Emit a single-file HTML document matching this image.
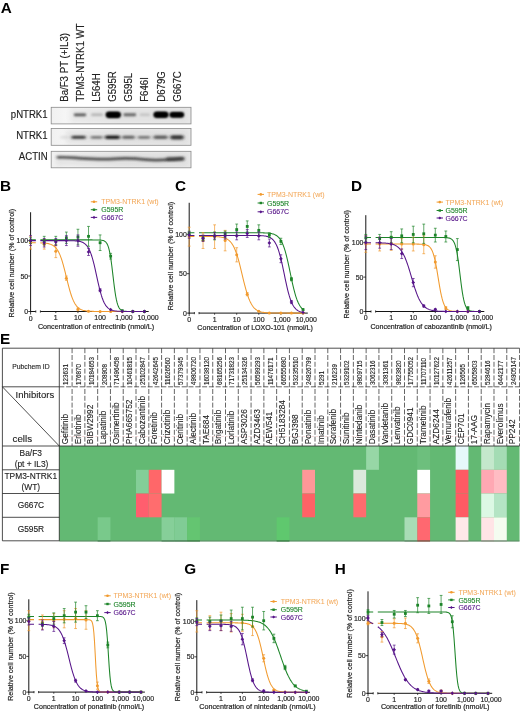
<!DOCTYPE html>
<html lang="en">
<head>
<meta charset="utf-8">
<title>Figure</title>
<style>
html,body{margin:0;padding:0;background:#fff;}
body{width:520px;height:713px;overflow:hidden;font-family:'Liberation Sans', sans-serif;}
svg text{font-family:'Liberation Sans', sans-serif;}
</style>
</head>
<body>
<svg width="520" height="713" viewBox="0 0 520 713" font-family="'Liberation Sans', sans-serif" style="display:block">
<text x="0.7" y="12.8" font-size="15.3" font-weight="700" fill="#000">A</text>
<text transform="translate(68,101.8) rotate(-90) scale(0.895,1)" font-size="10.8" fill="#222" stroke="#222" stroke-width="0.15">Ba/F3 PT (+IL3)</text>
<text transform="translate(83.6,101.8) rotate(-90) scale(0.895,1)" font-size="10.8" fill="#222" stroke="#222" stroke-width="0.15">TPM3-NTRK1 WT</text>
<text transform="translate(99.7,101.8) rotate(-90) scale(0.895,1)" font-size="10.8" fill="#222" stroke="#222" stroke-width="0.15">L564H</text>
<text transform="translate(115.9,101.8) rotate(-90) scale(0.895,1)" font-size="10.8" fill="#222" stroke="#222" stroke-width="0.15">G595R</text>
<text transform="translate(132,101.8) rotate(-90) scale(0.895,1)" font-size="10.8" fill="#222" stroke="#222" stroke-width="0.15">G595L</text>
<text transform="translate(148.2,101.8) rotate(-90) scale(0.895,1)" font-size="10.8" fill="#222" stroke="#222" stroke-width="0.15">F646I</text>
<text transform="translate(165.1,101.8) rotate(-90) scale(0.895,1)" font-size="10.8" fill="#222" stroke="#222" stroke-width="0.15">D679G</text>
<text transform="translate(180.9,101.8) rotate(-90) scale(0.895,1)" font-size="10.8" fill="#222" stroke="#222" stroke-width="0.15">G667C</text>
<text transform="translate(47.6,118.3) scale(0.915,1)" font-size="10.5" text-anchor="end" fill="#222" stroke="#222" stroke-width="0.15">pNTRK1</text>
<text transform="translate(47.6,139.2) scale(0.915,1)" font-size="10.5" text-anchor="end" fill="#222" stroke="#222" stroke-width="0.15">NTRK1</text>
<text transform="translate(47.6,159.8) scale(0.915,1)" font-size="10.5" text-anchor="end" fill="#222" stroke="#222" stroke-width="0.15">ACTIN</text>
<defs><filter id="b1" x="-30%" y="-200%" width="160%" height="500%"><feGaussianBlur stdDeviation="1.3 0.9"/></filter><filter id="b2" x="-30%" y="-200%" width="160%" height="500%"><feGaussianBlur stdDeviation="1.6 1.0"/></filter><filter id="b3" x="-30%" y="-300%" width="160%" height="700%"><feGaussianBlur stdDeviation="2.5 2.2"/></filter><linearGradient id="bg1" x1="0" x2="1" y1="0" y2="0"><stop offset="0" stop-color="#f1f1f1"/><stop offset="0.12" stop-color="#f6f6f6"/><stop offset="0.5" stop-color="#ececec"/><stop offset="1" stop-color="#e9e9e9"/></linearGradient></defs>
<clipPath id="cb0"><rect x="51.2" y="107.3" width="139.8" height="16.6"/></clipPath>
<rect x="51.2" y="107.3" width="139.8" height="16.6" fill="url(#bg1)"/>
<clipPath id="cb1"><rect x="51.2" y="128.4" width="139.8" height="16.9"/></clipPath>
<rect x="51.2" y="128.4" width="139.8" height="16.9" fill="url(#bg1)"/>
<clipPath id="cb2"><rect x="51.2" y="151.3" width="139.8" height="16.5"/></clipPath>
<rect x="51.2" y="151.3" width="139.8" height="16.5" fill="url(#bg1)"/>
<g clip-path="url(#cb0)">
<rect x="70" y="108" width="118" height="15" fill="#d9d9d9" opacity="0.45" filter="url(#b3)"/>
<rect x="73.8" y="113.45" width="12.4" height="2.7" rx="1.35" fill="#3a3a3a" opacity="0.85" filter="url(#b1)"/>
<rect x="91" y="113.5" width="12" height="2.6" rx="1.3" fill="#777" opacity="0.45" filter="url(#b1)"/>
<rect x="105.7" y="111.7" width="15.2" height="6.2" rx="3.1" fill="#000" opacity="1" filter="url(#b1)"/>
<rect x="123.4" y="113.35" width="12.8" height="2.9" rx="1.45" fill="#444" opacity="0.8" filter="url(#b1)"/>
<rect x="139.6" y="113.6" width="10.4" height="2.4" rx="1.2" fill="#888" opacity="0.35" filter="url(#b1)"/>
<rect x="153.5" y="111.8" width="15" height="6" rx="3" fill="#000" opacity="1" filter="url(#b1)"/>
<rect x="169.5" y="112.1" width="14.6" height="5.4" rx="2.7" fill="#000" opacity="1" filter="url(#b1)"/>
<rect x="106.7" y="112.5" width="13.2" height="4.6" rx="2.3" fill="#000" filter="url(#b1)"/>
<rect x="154.5" y="112.6" width="13" height="4.4" rx="2.2" fill="#000" filter="url(#b1)"/>
<rect x="170.5" y="112.9" width="12.6" height="3.8" rx="1.9" fill="#000" filter="url(#b1)"/>
</g>
<g clip-path="url(#cb1)">
<rect x="66" y="130" width="122" height="14" fill="#d4d4d4" opacity="0.5" filter="url(#b3)"/>
<rect x="60.5" y="136.05" width="8" height="2.5" rx="1.25" fill="#999" opacity="0.25" filter="url(#b2)"/>
<rect x="71.4" y="135.75" width="14.4" height="3.1" rx="1.55" fill="#222" opacity="0.9" filter="url(#b2)"/>
<rect x="90.6" y="135.9" width="12" height="2.8" rx="1.4" fill="#444" opacity="0.7" filter="url(#b2)"/>
<rect x="104.9" y="135.5" width="15.2" height="3.6" rx="1.8" fill="#111" opacity="0.95" filter="url(#b2)"/>
<rect x="122.1" y="135.8" width="12.8" height="3" rx="1.5" fill="#333" opacity="0.75" filter="url(#b2)"/>
<rect x="137.8" y="135.9" width="12.4" height="2.8" rx="1.4" fill="#444" opacity="0.7" filter="url(#b2)"/>
<rect x="153.4" y="135.5" width="14.4" height="3.6" rx="1.8" fill="#333" opacity="0.75" filter="url(#b2)"/>
<rect x="170.2" y="135.2" width="13.6" height="4.2" rx="2.1" fill="#222" opacity="0.9" filter="url(#b2)"/>
</g>
<g clip-path="url(#cb2)">
<rect x="56" y="153" width="132" height="13" fill="#d4d4d4" opacity="0.5" filter="url(#b3)"/>
<path d="M58,157.3 C70,156.9 76,158.3 86,158.6 S104,159.5 114,158.8 S134,158.3 146,159.6 S170,159.4 183,158.7" fill="none" stroke="#2a2a2a" stroke-width="2.7" stroke-linecap="round" opacity="0.82" filter="url(#b2)"/>
<rect x="166" y="156.7" width="18" height="4.2" rx="2" fill="#222" opacity="0.5" filter="url(#b2)"/>
</g>
<rect x="51.2" y="107.3" width="139.8" height="16.6" fill="none" stroke="#8a8a8a" stroke-width="0.8"/>
<rect x="51.2" y="128.4" width="139.8" height="16.9" fill="none" stroke="#8a8a8a" stroke-width="0.8"/>
<rect x="51.2" y="151.3" width="139.8" height="16.5" fill="none" stroke="#8a8a8a" stroke-width="0.8"/>
<text x="0.1" y="190.9" font-size="15.3" font-weight="700" fill="#000">B</text>
<g stroke="#151515" stroke-width="1.0" fill="none">
<path d="M30.6,212.24 V312"/>
<path d="M30.1,311.5 H35.8"/>
<path d="M40.4,311.5 H148.7"/>
</g>
<g stroke="#151515" stroke-width="0.8" fill="none">
<path d="M28.2,311.5 H30.6"/>
<path d="M28.2,276.05 H30.6"/>
<path d="M28.2,240.6 H30.6"/>
<path d="M30.6,311.5 v3"/>
<path d="M35.8,310.4 v2.2 M40.4,310.4 v2.2"/>
<path d="M55.8,311.5 v1.6"/>
<path d="M77.95,311.5 v1.6"/>
<path d="M100.1,311.5 v1.6"/>
<path d="M122.25,311.5 v1.6"/>
<path d="M144.4,311.5 v1.6"/>
</g>
<g fill="#222" stroke="#222" stroke-width="0.17">
<text transform="translate(28.2,314) scale(0.93,1)" font-size="7.47" text-anchor="end">0</text>
<text transform="translate(28.2,278.55) scale(0.93,1)" font-size="7.47" text-anchor="end">50</text>
<text transform="translate(28.2,243.1) scale(0.93,1)" font-size="7.47" text-anchor="end">100</text>
<text transform="translate(30.6,320.6) scale(0.93,1)" font-size="7.47" text-anchor="middle">0</text>
<text transform="translate(55.8,320.2) scale(0.93,1)" font-size="7.47" text-anchor="middle">1</text>
<text transform="translate(77.95,320.2) scale(0.93,1)" font-size="7.47" text-anchor="middle">10</text>
<text transform="translate(100.1,320.2) scale(0.93,1)" font-size="7.47" text-anchor="middle">100</text>
<text transform="translate(123.95,320.2) scale(0.93,1)" font-size="7.47" text-anchor="middle">1,000</text>
<text transform="translate(148,320.2) scale(0.93,1)" font-size="7.47" text-anchor="middle">10,000</text>
</g>
<text transform="translate(37.9,328.9) scale(0.9,1)" font-size="7.99" fill="#222" stroke="#222" stroke-width="0.2">Concentration of entrectinib (nmol/L)</text>
<text transform="translate(14,317.4) rotate(-90) scale(0.9,1)" font-size="7.89" fill="#222" stroke="#222" stroke-width="0.2">Relative cell number (% of control)</text>
<path d="M30.6,242.73 L35.8,242.8 M40.4,242.87 L41.06,242.89 L41.71,242.92 L42.37,242.95 L43.02,242.98 L43.68,243.03 L44.33,243.08 L44.99,243.14 L45.64,243.21 L46.3,243.29 L46.95,243.38 L47.61,243.49 L48.26,243.62 L48.92,243.77 L49.57,243.94 L50.23,244.15 L50.88,244.38 L51.54,244.65 L52.19,244.97 L52.84,245.34 L53.5,245.76 L54.16,246.25 L54.81,246.81 L55.47,247.45 L56.12,248.19 L56.78,249.03 L57.43,249.99 L58.09,251.07 L58.74,252.28 L59.4,253.65 L60.05,255.16 L60.7,256.84 L61.36,258.68 L62.02,260.68 L62.67,262.83 L63.33,265.13 L63.98,267.55 L64.64,270.09 L65.29,272.71 L65.94,275.38 L66.6,278.07 L67.25,280.75 L67.91,283.38 L68.56,285.94 L69.22,288.4 L69.88,290.74 L70.53,292.94 L71.19,294.98 L71.84,296.87 L72.5,298.59 L73.15,300.15 L73.81,301.56 L74.46,302.82 L75.11,303.94 L75.77,304.93 L76.42,305.8 L77.08,306.57 L77.73,307.24 L78.39,307.82 L79.05,308.33 L79.7,308.77 L80.36,309.16 L81.01,309.49 L81.66,309.77 L82.32,310.02 L82.97,310.23 L83.63,310.41 L84.28,310.56 L84.94,310.7 L85.59,310.81 L86.25,310.91 L86.91,311 L87.56,311.07 L88.22,311.13 L88.87,311.18 L89.53,311.23 L90.18,311.27 L90.83,311.3 L91.49,311.33 L92.14,311.36 L92.8,311.38 L93.45,311.39 L94.11,311.41 L94.76,311.42 L95.42,311.43 L96.07,311.44 L96.73,311.45 L97.38,311.46 L98.04,311.46 L98.69,311.47 L99.35,311.47 L100,311.48 L100.66,311.48 L101.31,311.48 L101.97,311.49 L102.62,311.49 L103.28,311.49 L103.94,311.49 L104.59,311.49 L105.25,311.49 L105.9,311.49 L106.55,311.5 L107.21,311.5 L107.86,311.5 L108.52,311.5 L109.17,311.5 L109.83,311.5 L110.48,311.5 L111.14,311.5 L111.8,311.5 L112.45,311.5 L113.1,311.5 L113.76,311.5 L114.41,311.5 L115.07,311.5 L115.72,311.5 L116.38,311.5 L117.03,311.5 L117.69,311.5 L118.34,311.5 L119,311.5 L119.65,311.5 L120.31,311.5 L120.96,311.5 L121.62,311.5 L122.27,311.5 L122.93,311.5 L123.58,311.5 L124.24,311.5 L124.89,311.5 L125.55,311.5 L126.2,311.5 L126.86,311.5 L127.51,311.5 L128.17,311.5 L128.82,311.5 L129.48,311.5 L130.13,311.5 L130.79,311.5 L131.44,311.5 L132.1,311.5 L132.75,311.5 L133.41,311.5 L134.06,311.5 L134.72,311.5 L135.38,311.5 L136.03,311.5 L136.69,311.5 L137.34,311.5 L138,311.5 L138.65,311.5 L139.31,311.5 L139.96,311.5 L140.62,311.5 L141.27,311.5 L141.93,311.5 L142.58,311.5 L143.24,311.5 L143.89,311.5 L144.54,311.5 L145.2,311.5" fill="none" stroke="#F19A2E" stroke-width="1.05" stroke-linejoin="round"/>
<path d="M30.6,239.89 L35.8,239.89 M40.4,239.89 L41.06,239.89 L41.71,239.89 L42.37,239.89 L43.02,239.89 L43.68,239.89 L44.33,239.89 L44.99,239.89 L45.64,239.89 L46.3,239.89 L46.95,239.89 L47.61,239.89 L48.26,239.89 L48.92,239.89 L49.57,239.89 L50.23,239.89 L50.88,239.89 L51.54,239.89 L52.19,239.89 L52.84,239.89 L53.5,239.89 L54.16,239.89 L54.81,239.89 L55.47,239.89 L56.12,239.89 L56.78,239.89 L57.43,239.89 L58.09,239.89 L58.74,239.89 L59.4,239.89 L60.05,239.89 L60.7,239.89 L61.36,239.89 L62.02,239.89 L62.67,239.89 L63.33,239.89 L63.98,239.89 L64.64,239.89 L65.29,239.89 L65.94,239.89 L66.6,239.89 L67.25,239.89 L67.91,239.89 L68.56,239.89 L69.22,239.89 L69.88,239.89 L70.53,239.89 L71.19,239.89 L71.84,239.89 L72.5,239.89 L73.15,239.89 L73.81,239.89 L74.46,239.89 L75.11,239.89 L75.77,239.89 L76.42,239.89 L77.08,239.89 L77.73,239.89 L78.39,239.89 L79.05,239.89 L79.7,239.89 L80.36,239.89 L81.01,239.89 L81.66,239.89 L82.32,239.89 L82.97,239.89 L83.63,239.89 L84.28,239.89 L84.94,239.89 L85.59,239.89 L86.25,239.89 L86.91,239.89 L87.56,239.89 L88.22,239.89 L88.87,239.89 L89.53,239.89 L90.18,239.89 L90.83,239.89 L91.49,239.89 L92.14,239.89 L92.8,239.9 L93.45,239.9 L94.11,239.9 L94.76,239.9 L95.42,239.91 L96.07,239.91 L96.73,239.92 L97.38,239.93 L98.04,239.95 L98.69,239.97 L99.35,240 L100,240.03 L100.66,240.09 L101.31,240.16 L101.97,240.26 L102.62,240.39 L103.28,240.57 L103.94,240.82 L104.59,241.16 L105.25,241.61 L105.9,242.22 L106.55,243.04 L107.21,244.13 L107.86,245.57 L108.52,247.44 L109.17,249.83 L109.83,252.82 L110.48,256.48 L111.14,260.8 L111.8,265.71 L112.45,271.08 L113.1,276.66 L113.76,282.19 L114.41,287.42 L115.07,292.15 L115.72,296.24 L116.38,299.67 L117.03,302.45 L117.69,304.65 L118.34,306.36 L119,307.67 L119.65,308.66 L120.31,309.4 L120.96,309.95 L121.62,310.36 L122.27,310.66 L122.93,310.89 L123.58,311.05 L124.24,311.17 L124.89,311.26 L125.55,311.32 L126.2,311.37 L126.86,311.41 L127.51,311.43 L128.17,311.45 L128.82,311.46 L129.48,311.47 L130.13,311.48 L130.79,311.49 L131.44,311.49 L132.1,311.49 L132.75,311.49 L133.41,311.5 L134.06,311.5 L134.72,311.5 L135.38,311.5 L136.03,311.5 L136.69,311.5 L137.34,311.5 L138,311.5 L138.65,311.5 L139.31,311.5 L139.96,311.5 L140.62,311.5 L141.27,311.5 L141.93,311.5 L142.58,311.5 L143.24,311.5 L143.89,311.5 L144.54,311.5 L145.2,311.5" fill="none" stroke="#1C8428" stroke-width="1.05" stroke-linejoin="round"/>
<path d="M30.6,240.6 L35.8,240.6 M40.4,240.6 L41.06,240.6 L41.71,240.6 L42.37,240.6 L43.02,240.6 L43.68,240.6 L44.33,240.6 L44.99,240.6 L45.64,240.6 L46.3,240.6 L46.95,240.6 L47.61,240.6 L48.26,240.6 L48.92,240.6 L49.57,240.6 L50.23,240.6 L50.88,240.6 L51.54,240.6 L52.19,240.6 L52.84,240.6 L53.5,240.6 L54.16,240.6 L54.81,240.6 L55.47,240.6 L56.12,240.6 L56.78,240.6 L57.43,240.6 L58.09,240.6 L58.74,240.6 L59.4,240.6 L60.05,240.61 L60.7,240.61 L61.36,240.61 L62.02,240.61 L62.67,240.61 L63.33,240.61 L63.98,240.61 L64.64,240.62 L65.29,240.62 L65.94,240.62 L66.6,240.63 L67.25,240.63 L67.91,240.64 L68.56,240.65 L69.22,240.66 L69.88,240.67 L70.53,240.68 L71.19,240.69 L71.84,240.71 L72.5,240.73 L73.15,240.76 L73.81,240.79 L74.46,240.82 L75.11,240.86 L75.77,240.91 L76.42,240.97 L77.08,241.03 L77.73,241.11 L78.39,241.21 L79.05,241.32 L79.7,241.45 L80.36,241.61 L81.01,241.79 L81.66,242.01 L82.32,242.26 L82.97,242.56 L83.63,242.92 L84.28,243.33 L84.94,243.81 L85.59,244.38 L86.25,245.03 L86.91,245.79 L87.56,246.68 L88.22,247.69 L88.87,248.85 L89.53,250.18 L90.18,251.68 L90.83,253.36 L91.49,255.24 L92.14,257.32 L92.8,259.59 L93.45,262.05 L94.11,264.68 L94.76,267.45 L95.42,270.35 L96.07,273.32 L96.73,276.33 L97.38,279.34 L98.04,282.3 L98.69,285.17 L99.35,287.92 L100,290.52 L100.66,292.95 L101.31,295.18 L101.97,297.22 L102.62,299.06 L103.28,300.72 L103.94,302.18 L104.59,303.47 L105.25,304.61 L105.9,305.6 L106.55,306.46 L107.21,307.2 L107.86,307.84 L108.52,308.38 L109.17,308.85 L109.83,309.25 L110.48,309.6 L111.14,309.89 L111.8,310.14 L112.45,310.35 L113.1,310.52 L113.76,310.67 L114.41,310.8 L115.07,310.91 L115.72,311 L116.38,311.08 L117.03,311.15 L117.69,311.2 L118.34,311.25 L119,311.29 L119.65,311.32 L120.31,311.35 L120.96,311.37 L121.62,311.39 L122.27,311.41 L122.93,311.42 L123.58,311.44 L124.24,311.45 L124.89,311.45 L125.55,311.46 L126.2,311.47 L126.86,311.47 L127.51,311.48 L128.17,311.48 L128.82,311.48 L129.48,311.49 L130.13,311.49 L130.79,311.49 L131.44,311.49 L132.1,311.49 L132.75,311.49 L133.41,311.49 L134.06,311.5 L134.72,311.5 L135.38,311.5 L136.03,311.5 L136.69,311.5 L137.34,311.5 L138,311.5 L138.65,311.5 L139.31,311.5 L139.96,311.5 L140.62,311.5 L141.27,311.5 L141.93,311.5 L142.58,311.5 L143.24,311.5 L143.89,311.5 L144.54,311.5 L145.2,311.5" fill="none" stroke="#561489" stroke-width="1.05" stroke-linejoin="round"/>
<g stroke="#F19A2E" stroke-width="0.7" fill="#F19A2E">
<path d="M30.6,236.35 V249.11 M29.2,236.35 h2.8 M29.2,249.11 h2.8" fill="none"/>
<circle cx="30.6" cy="242.73" r="1.5" stroke="none"/>
<path d="M44.22,239.18 V249.11 M42.82,239.18 h2.8 M42.82,249.11 h2.8" fill="none"/>
<circle cx="44.22" cy="244.15" r="1.5" stroke="none"/>
<path d="M55.8,244.85 V257.62 M54.4,244.85 h2.8 M54.4,257.62 h2.8" fill="none"/>
<circle cx="55.8" cy="251.24" r="1.5" stroke="none"/>
<path d="M66.37,276.05 V280.3 M64.97,276.05 h2.8 M64.97,280.3 h2.8" fill="none"/>
<circle cx="66.37" cy="278.18" r="1.5" stroke="none"/>
<path d="M77.95,307.95 V310.79 M76.55,307.95 h2.8 M76.55,310.79 h2.8" fill="none"/>
<circle cx="77.95" cy="309.37" r="1.5" stroke="none"/>
<circle cx="88.52" cy="311.16" r="1.5" stroke="none"/>
<circle cx="100.1" cy="311.48" r="1.5" stroke="none"/>
<circle cx="110.67" cy="311.5" r="1.5" stroke="none"/>
<circle cx="122.25" cy="311.5" r="1.5" stroke="none"/>
<circle cx="132.82" cy="311.5" r="1.5" stroke="none"/>
<circle cx="144.4" cy="311.5" r="1.5" stroke="none"/>
</g>
<g stroke="#1C8428" stroke-width="0.7" fill="#1C8428">
<path d="M30.6,237.76 V243.44 M29.2,237.76 h2.8 M29.2,243.44 h2.8" fill="none"/>
<rect x="29.2" y="239.2" width="2.8" height="2.8" stroke="none"/>
<path d="M44.22,236.35 V244.85 M42.82,236.35 h2.8 M42.82,244.85 h2.8" fill="none"/>
<rect x="42.82" y="239.2" width="2.8" height="2.8" stroke="none"/>
<path d="M55.8,236.35 V244.85 M54.4,236.35 h2.8 M54.4,244.85 h2.8" fill="none"/>
<rect x="54.4" y="239.2" width="2.8" height="2.8" stroke="none"/>
<path d="M66.37,232.09 V243.44 M64.97,232.09 h2.8 M64.97,243.44 h2.8" fill="none"/>
<rect x="64.97" y="236.36" width="2.8" height="2.8" stroke="none"/>
<path d="M77.95,229.26 V244.85 M76.55,229.26 h2.8 M76.55,244.85 h2.8" fill="none"/>
<rect x="76.55" y="235.66" width="2.8" height="2.8" stroke="none"/>
<path d="M88.52,226.42 V246.27 M87.12,226.42 h2.8 M87.12,246.27 h2.8" fill="none"/>
<rect x="87.12" y="234.95" width="2.8" height="2.8" stroke="none"/>
<path d="M100.1,234.93 V250.53 M98.7,234.93 h2.8 M98.7,250.53 h2.8" fill="none"/>
<rect x="98.7" y="241.33" width="2.8" height="2.8" stroke="none"/>
<path d="M110.67,253.36 V259.03 M109.27,253.36 h2.8 M109.27,259.03 h2.8" fill="none"/>
<rect x="109.27" y="254.8" width="2.8" height="2.8" stroke="none"/>
<rect x="120.85" y="309.25" width="2.8" height="2.8" stroke="none"/>
<rect x="131.42" y="310.09" width="2.8" height="2.8" stroke="none"/>
<rect x="143" y="310.1" width="2.8" height="2.8" stroke="none"/>
</g>
<g stroke="#561489" stroke-width="0.7" fill="#561489">
<path d="M30.6,235.64 V245.56 M29.2,235.64 h2.8 M29.2,245.56 h2.8" fill="none"/>
<path d="M30.6,238.7 l1.8,1.9 l-1.8,1.9 l-1.8,-1.9 z" stroke="none"/>
<path d="M44.22,238.47 V246.98 M42.82,238.47 h2.8 M42.82,246.98 h2.8" fill="none"/>
<path d="M44.22,240.83 l1.8,1.9 l-1.8,1.9 l-1.8,-1.9 z" stroke="none"/>
<path d="M55.8,238.47 V245.56 M54.4,238.47 h2.8 M54.4,245.56 h2.8" fill="none"/>
<path d="M55.8,240.12 l1.8,1.9 l-1.8,1.9 l-1.8,-1.9 z" stroke="none"/>
<path d="M66.37,235.64 V245.56 M64.97,235.64 h2.8 M64.97,245.56 h2.8" fill="none"/>
<path d="M66.37,238.7 l1.8,1.9 l-1.8,1.9 l-1.8,-1.9 z" stroke="none"/>
<path d="M77.95,234.93 V246.27 M76.55,234.93 h2.8 M76.55,246.27 h2.8" fill="none"/>
<path d="M77.95,238.7 l1.8,1.9 l-1.8,1.9 l-1.8,-1.9 z" stroke="none"/>
<path d="M88.52,248.4 V255.49 M87.12,248.4 h2.8 M87.12,255.49 h2.8" fill="none"/>
<path d="M88.52,250.04 l1.8,1.9 l-1.8,1.9 l-1.8,-1.9 z" stroke="none"/>
<path d="M100.1,288.81 V291.65 M98.7,288.81 h2.8 M98.7,291.65 h2.8" fill="none"/>
<path d="M100.1,288.33 l1.8,1.9 l-1.8,1.9 l-1.8,-1.9 z" stroke="none"/>
<path d="M110.67,307.78 l1.8,1.9 l-1.8,1.9 l-1.8,-1.9 z" stroke="none"/>
<path d="M122.25,309.51 l1.8,1.9 l-1.8,1.9 l-1.8,-1.9 z" stroke="none"/>
<path d="M132.82,309.59 l1.8,1.9 l-1.8,1.9 l-1.8,-1.9 z" stroke="none"/>
<path d="M144.4,309.6 l1.8,1.9 l-1.8,1.9 l-1.8,-1.9 z" stroke="none"/>
</g>
<path d="M90.8,201.8 h6.4" stroke="#F19A2E" stroke-width="1"/>
<circle cx="94" cy="201.8" r="1.3" fill="#F19A2E"/>
<text transform="translate(101.2,204.4) scale(0.9,1)" font-size="7.78" fill="#F3A95A" stroke="#F3A95A" stroke-width="0.05">TPM3-NTRK1 (wt)</text>
<path d="M90.8,209.7 h6.4" stroke="#1C8428" stroke-width="1"/>
<rect x="92.8" y="208.5" width="2.4" height="2.4" fill="#1C8428"/>
<text transform="translate(101.2,212.3) scale(0.9,1)" font-size="7.78" fill="#1C8428" stroke="#1C8428" stroke-width="0.12">G595R</text>
<path d="M90.8,217.4 h6.4" stroke="#561489" stroke-width="1"/>
<path d="M94,215.8 l1.5,1.6 l-1.5,1.6 l-1.5,-1.6 z" fill="#561489"/>
<text transform="translate(101.2,220) scale(0.9,1)" font-size="7.78" fill="#561489" stroke="#561489" stroke-width="0.12">G667C</text>
<text x="174.9" y="191.4" font-size="15.3" font-weight="700" fill="#000">C</text>
<g stroke="#151515" stroke-width="1.0" fill="none">
<path d="M189.2,202.78 V313.6"/>
<path d="M188.7,313.1 H194.4"/>
<path d="M199,313.1 H307.8"/>
</g>
<g stroke="#151515" stroke-width="0.8" fill="none">
<path d="M186.8,313.1 H189.2"/>
<path d="M186.8,273.7 H189.2"/>
<path d="M186.8,234.3 H189.2"/>
<path d="M189.2,313.1 v3"/>
<path d="M194.4,312 v2.2 M199,312 v2.2"/>
<path d="M214.6,313.1 v1.6"/>
<path d="M236.7,313.1 v1.6"/>
<path d="M258.8,313.1 v1.6"/>
<path d="M280.9,313.1 v1.6"/>
<path d="M303,313.1 v1.6"/>
</g>
<g fill="#222" stroke="#222" stroke-width="0.17">
<text transform="translate(186.8,315.6) scale(0.93,1)" font-size="7.47" text-anchor="end">0</text>
<text transform="translate(186.8,276.2) scale(0.93,1)" font-size="7.47" text-anchor="end">50</text>
<text transform="translate(186.8,236.8) scale(0.93,1)" font-size="7.47" text-anchor="end">100</text>
<text transform="translate(189.2,322.3) scale(0.93,1)" font-size="7.47" text-anchor="middle">0</text>
<text transform="translate(214.6,321.9) scale(0.93,1)" font-size="7.47" text-anchor="middle">1</text>
<text transform="translate(236.7,321.9) scale(0.93,1)" font-size="7.47" text-anchor="middle">10</text>
<text transform="translate(258.8,321.9) scale(0.93,1)" font-size="7.47" text-anchor="middle">100</text>
<text transform="translate(281.9,321.9) scale(0.93,1)" font-size="7.47" text-anchor="middle">1,000</text>
<text transform="translate(306.3,321.9) scale(0.93,1)" font-size="7.47" text-anchor="middle">10,000</text>
</g>
<text transform="translate(197.35,329.9) scale(0.9,1)" font-size="7.87" fill="#222" stroke="#222" stroke-width="0.2">Concentration of LOXO-101 (nmol/L)</text>
<text transform="translate(172.5,310.3) rotate(-90) scale(0.9,1)" font-size="7.89" fill="#222" stroke="#222" stroke-width="0.2">Relative cell number (% of control)</text>
<path d="M189.2,236.35 L194.4,236.35 M199,236.35 L199.66,236.36 L200.32,236.36 L200.97,236.36 L201.63,236.36 L202.29,236.36 L202.95,236.36 L203.61,236.37 L204.26,236.37 L204.92,236.37 L205.58,236.37 L206.24,236.38 L206.9,236.38 L207.56,236.39 L208.21,236.39 L208.87,236.4 L209.53,236.41 L210.19,236.42 L210.85,236.43 L211.5,236.44 L212.16,236.46 L212.82,236.47 L213.48,236.49 L214.14,236.51 L214.8,236.54 L215.45,236.57 L216.11,236.6 L216.77,236.64 L217.43,236.69 L218.09,236.74 L218.74,236.8 L219.4,236.87 L220.06,236.95 L220.72,237.04 L221.38,237.15 L222.03,237.27 L222.69,237.41 L223.35,237.58 L224.01,237.76 L224.67,237.98 L225.32,238.22 L225.98,238.5 L226.64,238.83 L227.3,239.2 L227.96,239.62 L228.62,240.1 L229.27,240.65 L229.93,241.27 L230.59,241.98 L231.25,242.78 L231.91,243.68 L232.56,244.69 L233.22,245.83 L233.88,247.09 L234.54,248.49 L235.2,250.03 L235.86,251.73 L236.51,253.58 L237.17,255.57 L237.83,257.72 L238.49,260.01 L239.15,262.43 L239.8,264.97 L240.46,267.59 L241.12,270.29 L241.78,273.04 L242.44,275.8 L243.09,278.55 L243.75,281.26 L244.41,283.91 L245.07,286.46 L245.73,288.91 L246.38,291.23 L247.04,293.41 L247.7,295.44 L248.36,297.32 L249.02,299.05 L249.68,300.63 L250.33,302.06 L250.99,303.35 L251.65,304.52 L252.31,305.55 L252.97,306.48 L253.62,307.3 L254.28,308.03 L254.94,308.67 L255.6,309.23 L256.26,309.73 L256.92,310.16 L257.57,310.54 L258.23,310.88 L258.89,311.17 L259.55,311.42 L260.21,311.64 L260.86,311.83 L261.52,312 L262.18,312.15 L262.84,312.27 L263.5,312.38 L264.15,312.48 L264.81,312.56 L265.47,312.63 L266.13,312.7 L266.79,312.75 L267.44,312.8 L268.1,312.84 L268.76,312.87 L269.42,312.9 L270.08,312.93 L270.74,312.95 L271.39,312.97 L272.05,312.99 L272.71,313 L273.37,313.02 L274.03,313.03 L274.68,313.04 L275.34,313.05 L276,313.05 L276.66,313.06 L277.32,313.06 L277.98,313.07 L278.63,313.07 L279.29,313.08 L279.95,313.08 L280.61,313.08 L281.27,313.09 L281.92,313.09 L282.58,313.09 L283.24,313.09 L283.9,313.09 L284.56,313.09 L285.21,313.09 L285.87,313.09 L286.53,313.1 L287.19,313.1 L287.85,313.1 L288.5,313.1 L289.16,313.1 L289.82,313.1 L290.48,313.1 L291.14,313.1 L291.8,313.1 L292.45,313.1 L293.11,313.1 L293.77,313.1 L294.43,313.1 L295.09,313.1 L295.74,313.1 L296.4,313.1 L297.06,313.1 L297.72,313.1 L298.38,313.1 L299.04,313.1 L299.69,313.1 L300.35,313.1 L301.01,313.1 L301.67,313.1 L302.33,313.1 L302.98,313.1 L303.64,313.1 L304.3,313.1" fill="none" stroke="#F19A2E" stroke-width="1.05" stroke-linejoin="round"/>
<path d="M189.2,232.72 L194.4,232.72 M199,232.72 L199.66,232.72 L200.32,232.72 L200.97,232.72 L201.63,232.72 L202.29,232.72 L202.95,232.72 L203.61,232.72 L204.26,232.72 L204.92,232.72 L205.58,232.72 L206.24,232.72 L206.9,232.72 L207.56,232.72 L208.21,232.72 L208.87,232.72 L209.53,232.72 L210.19,232.72 L210.85,232.72 L211.5,232.72 L212.16,232.72 L212.82,232.72 L213.48,232.72 L214.14,232.72 L214.8,232.72 L215.45,232.72 L216.11,232.72 L216.77,232.72 L217.43,232.72 L218.09,232.72 L218.74,232.72 L219.4,232.72 L220.06,232.72 L220.72,232.72 L221.38,232.72 L222.03,232.72 L222.69,232.72 L223.35,232.72 L224.01,232.72 L224.67,232.72 L225.32,232.72 L225.98,232.72 L226.64,232.72 L227.3,232.72 L227.96,232.72 L228.62,232.72 L229.27,232.72 L229.93,232.72 L230.59,232.72 L231.25,232.72 L231.91,232.72 L232.56,232.72 L233.22,232.72 L233.88,232.72 L234.54,232.72 L235.2,232.72 L235.86,232.72 L236.51,232.72 L237.17,232.72 L237.83,232.72 L238.49,232.72 L239.15,232.72 L239.8,232.72 L240.46,232.72 L241.12,232.72 L241.78,232.72 L242.44,232.72 L243.09,232.72 L243.75,232.73 L244.41,232.73 L245.07,232.73 L245.73,232.73 L246.38,232.73 L247.04,232.73 L247.7,232.73 L248.36,232.73 L249.02,232.73 L249.68,232.73 L250.33,232.73 L250.99,232.73 L251.65,232.73 L252.31,232.73 L252.97,232.73 L253.62,232.74 L254.28,232.74 L254.94,232.74 L255.6,232.74 L256.26,232.75 L256.92,232.75 L257.57,232.76 L258.23,232.76 L258.89,232.77 L259.55,232.78 L260.21,232.78 L260.86,232.79 L261.52,232.81 L262.18,232.82 L262.84,232.84 L263.5,232.86 L264.15,232.88 L264.81,232.9 L265.47,232.94 L266.13,232.97 L266.79,233.01 L267.44,233.06 L268.1,233.12 L268.76,233.19 L269.42,233.27 L270.08,233.36 L270.74,233.46 L271.39,233.59 L272.05,233.74 L272.71,233.91 L273.37,234.11 L274.03,234.34 L274.68,234.61 L275.34,234.92 L276,235.28 L276.66,235.7 L277.32,236.19 L277.98,236.75 L278.63,237.4 L279.29,238.14 L279.95,239 L280.61,239.97 L281.27,241.08 L281.92,242.34 L282.58,243.75 L283.24,245.34 L283.9,247.11 L284.56,249.07 L285.21,251.22 L285.87,253.56 L286.53,256.09 L287.19,258.78 L287.85,261.63 L288.5,264.61 L289.16,267.69 L289.82,270.83 L290.48,274 L291.14,277.15 L291.8,280.25 L292.45,283.27 L293.11,286.16 L293.77,288.91 L294.43,291.49 L295.09,293.89 L295.74,296.1 L296.4,298.12 L297.06,299.94 L297.72,301.59 L298.38,303.06 L299.04,304.36 L299.69,305.52 L300.35,306.53 L301.01,307.43 L301.67,308.2 L302.33,308.88 L302.98,309.47 L303.64,309.98 L304.3,310.42" fill="none" stroke="#1C8428" stroke-width="1.05" stroke-linejoin="round"/>
<path d="M189.2,235.4 L194.4,235.4 M199,235.4 L199.66,235.4 L200.32,235.4 L200.97,235.4 L201.63,235.4 L202.29,235.4 L202.95,235.4 L203.61,235.4 L204.26,235.4 L204.92,235.4 L205.58,235.4 L206.24,235.4 L206.9,235.4 L207.56,235.4 L208.21,235.4 L208.87,235.4 L209.53,235.4 L210.19,235.4 L210.85,235.4 L211.5,235.4 L212.16,235.4 L212.82,235.4 L213.48,235.4 L214.14,235.4 L214.8,235.4 L215.45,235.4 L216.11,235.4 L216.77,235.4 L217.43,235.4 L218.09,235.4 L218.74,235.4 L219.4,235.4 L220.06,235.4 L220.72,235.4 L221.38,235.4 L222.03,235.4 L222.69,235.4 L223.35,235.4 L224.01,235.4 L224.67,235.4 L225.32,235.4 L225.98,235.4 L226.64,235.4 L227.3,235.4 L227.96,235.4 L228.62,235.4 L229.27,235.4 L229.93,235.4 L230.59,235.4 L231.25,235.4 L231.91,235.4 L232.56,235.4 L233.22,235.4 L233.88,235.4 L234.54,235.4 L235.2,235.4 L235.86,235.4 L236.51,235.4 L237.17,235.4 L237.83,235.4 L238.49,235.4 L239.15,235.4 L239.8,235.4 L240.46,235.4 L241.12,235.4 L241.78,235.41 L242.44,235.41 L243.09,235.41 L243.75,235.41 L244.41,235.41 L245.07,235.41 L245.73,235.41 L246.38,235.41 L247.04,235.41 L247.7,235.41 L248.36,235.41 L249.02,235.41 L249.68,235.42 L250.33,235.42 L250.99,235.42 L251.65,235.43 L252.31,235.43 L252.97,235.43 L253.62,235.44 L254.28,235.45 L254.94,235.45 L255.6,235.46 L256.26,235.47 L256.92,235.49 L257.57,235.5 L258.23,235.52 L258.89,235.54 L259.55,235.56 L260.21,235.59 L260.86,235.63 L261.52,235.67 L262.18,235.71 L262.84,235.77 L263.5,235.83 L264.15,235.91 L264.81,236 L265.47,236.1 L266.13,236.23 L266.79,236.37 L267.44,236.54 L268.1,236.74 L268.76,236.98 L269.42,237.26 L270.08,237.58 L270.74,237.95 L271.39,238.39 L272.05,238.9 L272.71,239.5 L273.37,240.18 L274.03,240.98 L274.68,241.89 L275.34,242.94 L276,244.13 L276.66,245.49 L277.32,247.03 L277.98,248.75 L278.63,250.67 L279.29,252.79 L279.95,255.11 L280.61,257.63 L281.27,260.33 L281.92,263.19 L282.58,266.19 L283.24,269.3 L283.9,272.47 L284.56,275.66 L285.21,278.84 L285.87,281.95 L286.53,284.97 L287.19,287.85 L287.85,290.57 L288.5,293.11 L289.16,295.45 L289.82,297.6 L290.48,299.54 L291.14,301.28 L291.8,302.84 L292.45,304.22 L293.11,305.43 L293.77,306.5 L294.43,307.43 L295.09,308.23 L295.74,308.93 L296.4,309.54 L297.06,310.06 L297.72,310.5 L298.38,310.88 L299.04,311.21 L299.69,311.49 L300.35,311.73 L301.01,311.94 L301.67,312.11 L302.33,312.26 L302.98,312.39 L303.64,312.49 L304.3,312.58" fill="none" stroke="#561489" stroke-width="1.05" stroke-linejoin="round"/>
<g stroke="#F19A2E" stroke-width="0.7" fill="#F19A2E">
<path d="M189.2,227.21 V246.12 M187.8,227.21 h2.8 M187.8,246.12 h2.8" fill="none"/>
<circle cx="189.2" cy="236.66" r="1.5" stroke="none"/>
<path d="M203.04,232.72 V248.48 M201.64,232.72 h2.8 M201.64,248.48 h2.8" fill="none"/>
<circle cx="203.04" cy="240.6" r="1.5" stroke="none"/>
<path d="M214.6,224.84 V248.48 M213.2,224.84 h2.8 M213.2,248.48 h2.8" fill="none"/>
<circle cx="214.6" cy="236.66" r="1.5" stroke="none"/>
<path d="M225.14,230.36 V250.85 M223.74,230.36 h2.8 M223.74,250.85 h2.8" fill="none"/>
<circle cx="225.14" cy="240.6" r="1.5" stroke="none"/>
<path d="M236.7,247.7 V261.88 M235.3,247.7 h2.8 M235.3,261.88 h2.8" fill="none"/>
<circle cx="236.7" cy="254.79" r="1.5" stroke="none"/>
<path d="M247.24,292.61 V295.76 M245.84,292.61 h2.8 M245.84,295.76 h2.8" fill="none"/>
<circle cx="247.24" cy="294.19" r="1.5" stroke="none"/>
<circle cx="258.8" cy="311.13" r="1.5" stroke="none"/>
<circle cx="269.34" cy="312.9" r="1.5" stroke="none"/>
<circle cx="280.9" cy="313.08" r="1.5" stroke="none"/>
<circle cx="291.44" cy="313.1" r="1.5" stroke="none"/>
<circle cx="303" cy="313.1" r="1.5" stroke="none"/>
</g>
<g stroke="#1C8428" stroke-width="0.7" fill="#1C8428">
<path d="M189.2,231.15 V235.88 M187.8,231.15 h2.8 M187.8,235.88 h2.8" fill="none"/>
<rect x="187.8" y="232.11" width="2.8" height="2.8" stroke="none"/>
<path d="M203.04,235.88 V240.6 M201.64,235.88 h2.8 M201.64,240.6 h2.8" fill="none"/>
<rect x="201.64" y="236.84" width="2.8" height="2.8" stroke="none"/>
<path d="M214.6,231.94 V239.82 M213.2,231.94 h2.8 M213.2,239.82 h2.8" fill="none"/>
<rect x="213.2" y="234.48" width="2.8" height="2.8" stroke="none"/>
<path d="M225.14,231.15 V237.45 M223.74,231.15 h2.8 M223.74,237.45 h2.8" fill="none"/>
<rect x="223.74" y="232.9" width="2.8" height="2.8" stroke="none"/>
<path d="M236.7,224.06 V235.09 M235.3,224.06 h2.8 M235.3,235.09 h2.8" fill="none"/>
<rect x="235.3" y="228.17" width="2.8" height="2.8" stroke="none"/>
<path d="M247.24,220.9 V231.94 M245.84,220.9 h2.8 M245.84,231.94 h2.8" fill="none"/>
<rect x="245.84" y="225.02" width="2.8" height="2.8" stroke="none"/>
<path d="M258.8,224.84 V235.88 M257.4,224.84 h2.8 M257.4,235.88 h2.8" fill="none"/>
<rect x="257.4" y="228.96" width="2.8" height="2.8" stroke="none"/>
<path d="M269.34,232.72 V237.45 M267.94,232.72 h2.8 M267.94,237.45 h2.8" fill="none"/>
<rect x="267.94" y="233.69" width="2.8" height="2.8" stroke="none"/>
<path d="M280.9,238.24 V244.54 M279.5,238.24 h2.8 M279.5,244.54 h2.8" fill="none"/>
<rect x="279.5" y="239.99" width="2.8" height="2.8" stroke="none"/>
<path d="M291.44,277.64 V280.79 M290.04,277.64 h2.8 M290.04,280.79 h2.8" fill="none"/>
<rect x="290.04" y="277.82" width="2.8" height="2.8" stroke="none"/>
<rect x="301.6" y="308.08" width="2.8" height="2.8" stroke="none"/>
</g>
<g stroke="#561489" stroke-width="0.7" fill="#561489">
<path d="M189.2,231.94 V238.24 M187.8,231.94 h2.8 M187.8,238.24 h2.8" fill="none"/>
<path d="M189.2,233.19 l1.8,1.9 l-1.8,1.9 l-1.8,-1.9 z" stroke="none"/>
<path d="M203.04,235.09 V241.39 M201.64,235.09 h2.8 M201.64,241.39 h2.8" fill="none"/>
<path d="M203.04,236.34 l1.8,1.9 l-1.8,1.9 l-1.8,-1.9 z" stroke="none"/>
<path d="M214.6,232.72 V239.03 M213.2,232.72 h2.8 M213.2,239.03 h2.8" fill="none"/>
<path d="M214.6,233.98 l1.8,1.9 l-1.8,1.9 l-1.8,-1.9 z" stroke="none"/>
<path d="M225.14,232.72 V239.03 M223.74,232.72 h2.8 M223.74,239.03 h2.8" fill="none"/>
<path d="M225.14,233.98 l1.8,1.9 l-1.8,1.9 l-1.8,-1.9 z" stroke="none"/>
<path d="M236.7,231.94 V239.82 M235.3,231.94 h2.8 M235.3,239.82 h2.8" fill="none"/>
<path d="M236.7,233.98 l1.8,1.9 l-1.8,1.9 l-1.8,-1.9 z" stroke="none"/>
<path d="M247.24,229.57 V237.45 M245.84,229.57 h2.8 M245.84,237.45 h2.8" fill="none"/>
<path d="M247.24,231.61 l1.8,1.9 l-1.8,1.9 l-1.8,-1.9 z" stroke="none"/>
<path d="M258.8,231.94 V239.82 M257.4,231.94 h2.8 M257.4,239.82 h2.8" fill="none"/>
<path d="M258.8,233.98 l1.8,1.9 l-1.8,1.9 l-1.8,-1.9 z" stroke="none"/>
<path d="M269.34,239.03 V246.91 M267.94,239.03 h2.8 M267.94,246.91 h2.8" fill="none"/>
<path d="M269.34,241.07 l1.8,1.9 l-1.8,1.9 l-1.8,-1.9 z" stroke="none"/>
<path d="M280.9,254.79 V262.67 M279.5,254.79 h2.8 M279.5,262.67 h2.8" fill="none"/>
<path d="M280.9,256.83 l1.8,1.9 l-1.8,1.9 l-1.8,-1.9 z" stroke="none"/>
<path d="M291.44,300.49 V303.64 M290.04,300.49 h2.8 M290.04,303.64 h2.8" fill="none"/>
<path d="M291.44,300.17 l1.8,1.9 l-1.8,1.9 l-1.8,-1.9 z" stroke="none"/>
<path d="M303,310.49 l1.8,1.9 l-1.8,1.9 l-1.8,-1.9 z" stroke="none"/>
</g>
<path d="M257.6,194.4 h6.4" stroke="#F19A2E" stroke-width="1"/>
<circle cx="260.8" cy="194.4" r="1.3" fill="#F19A2E"/>
<text transform="translate(267,197) scale(0.9,1)" font-size="7.78" fill="#F3A95A" stroke="#F3A95A" stroke-width="0.05">TPM3-NTRK1 (wt)</text>
<path d="M257.6,203 h6.4" stroke="#1C8428" stroke-width="1"/>
<rect x="259.6" y="201.8" width="2.4" height="2.4" fill="#1C8428"/>
<text transform="translate(267,205.6) scale(0.9,1)" font-size="7.78" fill="#1C8428" stroke="#1C8428" stroke-width="0.12">G595R</text>
<path d="M257.6,211.8 h6.4" stroke="#561489" stroke-width="1"/>
<path d="M260.8,210.2 l1.5,1.6 l-1.5,1.6 l-1.5,-1.6 z" fill="#561489"/>
<text transform="translate(267,214.4) scale(0.9,1)" font-size="7.78" fill="#561489" stroke="#561489" stroke-width="0.12">G667C</text>
<text x="351.1" y="190.8" font-size="15.3" font-weight="700" fill="#000">D</text>
<g stroke="#151515" stroke-width="1.0" fill="none">
<path d="M365.8,215.18 V312"/>
<path d="M365.3,311.5 H371"/>
<path d="M375.6,311.5 H484.3"/>
</g>
<g stroke="#151515" stroke-width="0.8" fill="none">
<path d="M363.4,311.5 H365.8"/>
<path d="M363.4,277.1 H365.8"/>
<path d="M363.4,242.7 H365.8"/>
<path d="M365.8,311.5 v3"/>
<path d="M371,310.4 v2.2 M375.6,310.4 v2.2"/>
<path d="M391.2,311.5 v1.6"/>
<path d="M413.25,311.5 v1.6"/>
<path d="M435.3,311.5 v1.6"/>
<path d="M457.35,311.5 v1.6"/>
<path d="M479.4,311.5 v1.6"/>
</g>
<g fill="#222" stroke="#222" stroke-width="0.17">
<text transform="translate(363.4,314) scale(0.93,1)" font-size="7.47" text-anchor="end">0</text>
<text transform="translate(363.4,279.6) scale(0.93,1)" font-size="7.47" text-anchor="end">50</text>
<text transform="translate(363.4,245.2) scale(0.93,1)" font-size="7.47" text-anchor="end">100</text>
<text transform="translate(365.8,320.3) scale(0.93,1)" font-size="7.47" text-anchor="middle">0</text>
<text transform="translate(391.2,319.9) scale(0.93,1)" font-size="7.47" text-anchor="middle">1</text>
<text transform="translate(413.25,319.9) scale(0.93,1)" font-size="7.47" text-anchor="middle">10</text>
<text transform="translate(435.3,319.9) scale(0.93,1)" font-size="7.47" text-anchor="middle">100</text>
<text transform="translate(458.35,319.9) scale(0.93,1)" font-size="7.47" text-anchor="middle">1,000</text>
<text transform="translate(482.6,319.9) scale(0.93,1)" font-size="7.47" text-anchor="middle">10,000</text>
</g>
<text transform="translate(370.45,328.5) scale(0.9,1)" font-size="7.87" fill="#222" stroke="#222" stroke-width="0.2">Concentration of cabozantinib (nmol/L)</text>
<text transform="translate(349.2,318.6) rotate(-90) scale(0.9,1)" font-size="7.89" fill="#222" stroke="#222" stroke-width="0.2">Relative cell number (% of control)</text>
<path d="M365.8,244.08 L371,244.08 M375.6,244.08 L376.26,244.08 L376.92,244.08 L377.57,244.08 L378.23,244.08 L378.89,244.08 L379.55,244.08 L380.2,244.08 L380.86,244.08 L381.52,244.08 L382.18,244.08 L382.83,244.08 L383.49,244.08 L384.15,244.08 L384.81,244.08 L385.46,244.08 L386.12,244.08 L386.78,244.08 L387.44,244.08 L388.09,244.08 L388.75,244.08 L389.41,244.08 L390.06,244.08 L390.72,244.08 L391.38,244.08 L392.04,244.08 L392.7,244.08 L393.35,244.08 L394.01,244.08 L394.67,244.08 L395.33,244.08 L395.98,244.08 L396.64,244.08 L397.3,244.08 L397.96,244.08 L398.61,244.08 L399.27,244.08 L399.93,244.08 L400.59,244.08 L401.24,244.08 L401.9,244.08 L402.56,244.08 L403.22,244.08 L403.87,244.08 L404.53,244.08 L405.19,244.08 L405.85,244.08 L406.5,244.08 L407.16,244.08 L407.82,244.08 L408.48,244.08 L409.13,244.08 L409.79,244.08 L410.45,244.08 L411.11,244.08 L411.76,244.08 L412.42,244.08 L413.08,244.08 L413.74,244.08 L414.39,244.09 L415.05,244.09 L415.71,244.09 L416.37,244.1 L417.02,244.11 L417.68,244.11 L418.34,244.12 L419,244.14 L419.65,244.15 L420.31,244.17 L420.97,244.2 L421.62,244.23 L422.28,244.28 L422.94,244.33 L423.6,244.4 L424.25,244.49 L424.91,244.6 L425.57,244.74 L426.23,244.92 L426.88,245.15 L427.54,245.43 L428.2,245.79 L428.86,246.24 L429.52,246.81 L430.17,247.51 L430.83,248.39 L431.49,249.46 L432.15,250.78 L432.8,252.38 L433.46,254.29 L434.12,256.55 L434.78,259.18 L435.43,262.18 L436.09,265.54 L436.75,269.19 L437.41,273.08 L438.06,277.1 L438.72,281.14 L439.38,285.09 L440.04,288.83 L440.69,292.29 L441.35,295.42 L442.01,298.17 L442.67,300.56 L443.32,302.59 L443.98,304.29 L444.64,305.7 L445.3,306.85 L445.95,307.79 L446.61,308.55 L447.27,309.16 L447.93,309.64 L448.58,310.03 L449.24,310.34 L449.9,310.58 L450.56,310.78 L451.21,310.93 L451.87,311.05 L452.53,311.15 L453.19,311.22 L453.84,311.28 L454.5,311.33 L455.16,311.36 L455.81,311.39 L456.47,311.42 L457.13,311.43 L457.79,311.45 L458.45,311.46 L459.1,311.47 L459.76,311.47 L460.42,311.48 L461.08,311.48 L461.73,311.49 L462.39,311.49 L463.05,311.49 L463.71,311.49 L464.36,311.5 L465.02,311.5 L465.68,311.5 L466.34,311.5 L466.99,311.5 L467.65,311.5 L468.31,311.5 L468.97,311.5 L469.62,311.5 L470.28,311.5 L470.94,311.5 L471.6,311.5 L472.25,311.5 L472.91,311.5 L473.57,311.5 L474.23,311.5 L474.88,311.5 L475.54,311.5 L476.2,311.5 L476.86,311.5 L477.51,311.5 L478.17,311.5 L478.83,311.5 L479.49,311.5 L480.14,311.5 L480.8,311.5" fill="none" stroke="#F19A2E" stroke-width="1.05" stroke-linejoin="round"/>
<path d="M365.8,237.54 L371,237.54 M375.6,237.54 L376.26,237.54 L376.92,237.54 L377.57,237.54 L378.23,237.54 L378.89,237.54 L379.55,237.54 L380.2,237.54 L380.86,237.54 L381.52,237.54 L382.18,237.54 L382.83,237.54 L383.49,237.54 L384.15,237.54 L384.81,237.54 L385.46,237.54 L386.12,237.54 L386.78,237.54 L387.44,237.54 L388.09,237.54 L388.75,237.54 L389.41,237.54 L390.06,237.54 L390.72,237.54 L391.38,237.54 L392.04,237.54 L392.7,237.54 L393.35,237.54 L394.01,237.54 L394.67,237.54 L395.33,237.54 L395.98,237.54 L396.64,237.54 L397.3,237.54 L397.96,237.54 L398.61,237.54 L399.27,237.54 L399.93,237.54 L400.59,237.54 L401.24,237.54 L401.9,237.54 L402.56,237.54 L403.22,237.54 L403.87,237.54 L404.53,237.54 L405.19,237.54 L405.85,237.54 L406.5,237.54 L407.16,237.54 L407.82,237.54 L408.48,237.54 L409.13,237.54 L409.79,237.54 L410.45,237.54 L411.11,237.54 L411.76,237.54 L412.42,237.54 L413.08,237.54 L413.74,237.54 L414.39,237.54 L415.05,237.54 L415.71,237.54 L416.37,237.54 L417.02,237.54 L417.68,237.54 L418.34,237.54 L419,237.54 L419.65,237.54 L420.31,237.54 L420.97,237.54 L421.62,237.54 L422.28,237.54 L422.94,237.54 L423.6,237.54 L424.25,237.54 L424.91,237.54 L425.57,237.54 L426.23,237.54 L426.88,237.54 L427.54,237.54 L428.2,237.54 L428.86,237.54 L429.52,237.54 L430.17,237.54 L430.83,237.54 L431.49,237.54 L432.15,237.54 L432.8,237.54 L433.46,237.54 L434.12,237.54 L434.78,237.54 L435.43,237.54 L436.09,237.54 L436.75,237.54 L437.41,237.54 L438.06,237.54 L438.72,237.55 L439.38,237.55 L440.04,237.55 L440.69,237.55 L441.35,237.56 L442.01,237.56 L442.67,237.57 L443.32,237.58 L443.98,237.6 L444.64,237.61 L445.3,237.64 L445.95,237.67 L446.61,237.72 L447.27,237.78 L447.93,237.86 L448.58,237.97 L449.24,238.12 L449.9,238.32 L450.56,238.59 L451.21,238.94 L451.87,239.41 L452.53,240.02 L453.19,240.84 L453.84,241.91 L454.5,243.29 L455.16,245.06 L455.81,247.31 L456.47,250.09 L457.13,253.47 L457.79,257.47 L458.45,262.05 L459.1,267.1 L459.76,272.46 L460.42,277.9 L461.08,283.21 L461.73,288.16 L462.39,292.6 L463.05,296.45 L463.71,299.68 L464.36,302.33 L465.02,304.45 L465.68,306.12 L466.34,307.42 L466.99,308.42 L467.65,309.18 L468.31,309.76 L468.97,310.2 L469.62,310.53 L470.28,310.77 L470.94,310.96 L471.6,311.1 L472.25,311.2 L472.91,311.28 L473.57,311.33 L474.23,311.38 L474.88,311.41 L475.54,311.43 L476.2,311.45 L476.86,311.46 L477.51,311.47 L478.17,311.48 L478.83,311.48 L479.49,311.49 L480.14,311.49 L480.8,311.49" fill="none" stroke="#1C8428" stroke-width="1.05" stroke-linejoin="round"/>
<path d="M365.8,242.7 L371,242.73 M375.6,242.76 L376.26,242.76 L376.92,242.77 L377.57,242.78 L378.23,242.79 L378.89,242.81 L379.55,242.82 L380.2,242.84 L380.86,242.86 L381.52,242.88 L382.18,242.91 L382.83,242.93 L383.49,242.97 L384.15,243 L384.81,243.05 L385.46,243.09 L386.12,243.15 L386.78,243.21 L387.44,243.28 L388.09,243.36 L388.75,243.45 L389.41,243.55 L390.06,243.67 L390.72,243.8 L391.38,243.96 L392.04,244.13 L392.7,244.32 L393.35,244.54 L394.01,244.79 L394.67,245.07 L395.33,245.39 L395.98,245.75 L396.64,246.15 L397.3,246.6 L397.96,247.11 L398.61,247.68 L399.27,248.32 L399.93,249.03 L400.59,249.82 L401.24,250.7 L401.9,251.67 L402.56,252.74 L403.22,253.91 L403.87,255.18 L404.53,256.57 L405.19,258.07 L405.85,259.69 L406.5,261.41 L407.16,263.24 L407.82,265.17 L408.48,267.18 L409.13,269.28 L409.79,271.43 L410.45,273.64 L411.11,275.87 L411.76,278.11 L412.42,280.35 L413.08,282.55 L413.74,284.72 L414.39,286.82 L415.05,288.84 L415.71,290.78 L416.37,292.62 L417.02,294.35 L417.68,295.97 L418.34,297.49 L419,298.89 L419.65,300.18 L420.31,301.36 L420.97,302.43 L421.62,303.41 L422.28,304.3 L422.94,305.1 L423.6,305.81 L424.25,306.46 L424.91,307.04 L425.57,307.55 L426.23,308.01 L426.88,308.42 L427.54,308.78 L428.2,309.1 L428.86,309.38 L429.52,309.64 L430.17,309.86 L430.83,310.06 L431.49,310.23 L432.15,310.38 L432.8,310.52 L433.46,310.64 L434.12,310.74 L434.78,310.83 L435.43,310.91 L436.09,310.98 L436.75,311.05 L437.41,311.1 L438.06,311.15 L438.72,311.19 L439.38,311.23 L440.04,311.26 L440.69,311.29 L441.35,311.32 L442.01,311.34 L442.67,311.36 L443.32,311.38 L443.98,311.39 L444.64,311.4 L445.3,311.42 L445.95,311.43 L446.61,311.44 L447.27,311.44 L447.93,311.45 L448.58,311.46 L449.24,311.46 L449.9,311.47 L450.56,311.47 L451.21,311.47 L451.87,311.48 L452.53,311.48 L453.19,311.48 L453.84,311.48 L454.5,311.49 L455.16,311.49 L455.81,311.49 L456.47,311.49 L457.13,311.49 L457.79,311.49 L458.45,311.49 L459.1,311.49 L459.76,311.5 L460.42,311.5 L461.08,311.5 L461.73,311.5 L462.39,311.5 L463.05,311.5 L463.71,311.5 L464.36,311.5 L465.02,311.5 L465.68,311.5 L466.34,311.5 L466.99,311.5 L467.65,311.5 L468.31,311.5 L468.97,311.5 L469.62,311.5 L470.28,311.5 L470.94,311.5 L471.6,311.5 L472.25,311.5 L472.91,311.5 L473.57,311.5 L474.23,311.5 L474.88,311.5 L475.54,311.5 L476.2,311.5 L476.86,311.5 L477.51,311.5 L478.17,311.5 L478.83,311.5 L479.49,311.5 L480.14,311.5 L480.8,311.5" fill="none" stroke="#561489" stroke-width="1.05" stroke-linejoin="round"/>
<g stroke="#F19A2E" stroke-width="0.7" fill="#F19A2E">
<path d="M365.8,235.82 V252.33 M364.4,235.82 h2.8 M364.4,252.33 h2.8" fill="none"/>
<circle cx="365.8" cy="244.08" r="1.5" stroke="none"/>
<path d="M379.67,237.2 V250.96 M378.27,237.2 h2.8 M378.27,250.96 h2.8" fill="none"/>
<circle cx="379.67" cy="244.08" r="1.5" stroke="none"/>
<path d="M391.2,236.51 V250.27 M389.8,236.51 h2.8 M389.8,250.27 h2.8" fill="none"/>
<circle cx="391.2" cy="243.39" r="1.5" stroke="none"/>
<path d="M401.72,238.57 V249.58 M400.32,238.57 h2.8 M400.32,249.58 h2.8" fill="none"/>
<circle cx="401.72" cy="244.08" r="1.5" stroke="none"/>
<path d="M413.25,237.2 V250.96 M411.85,237.2 h2.8 M411.85,250.96 h2.8" fill="none"/>
<circle cx="413.25" cy="244.08" r="1.5" stroke="none"/>
<path d="M423.77,235.82 V253.71 M422.37,235.82 h2.8 M422.37,253.71 h2.8" fill="none"/>
<circle cx="423.77" cy="244.76" r="1.5" stroke="none"/>
<path d="M435.3,255.77 V268.16 M433.9,255.77 h2.8 M433.9,268.16 h2.8" fill="none"/>
<circle cx="435.3" cy="261.96" r="1.5" stroke="none"/>
<path d="M445.82,306.68 V309.44 M444.42,306.68 h2.8 M444.42,309.44 h2.8" fill="none"/>
<circle cx="445.82" cy="308.06" r="1.5" stroke="none"/>
<circle cx="457.35" cy="311.44" r="1.5" stroke="none"/>
<circle cx="467.87" cy="311.5" r="1.5" stroke="none"/>
<circle cx="479.4" cy="311.5" r="1.5" stroke="none"/>
</g>
<g stroke="#1C8428" stroke-width="0.7" fill="#1C8428">
<path d="M365.8,234.44 V241.32 M364.4,234.44 h2.8 M364.4,241.32 h2.8" fill="none"/>
<rect x="364.4" y="236.48" width="2.8" height="2.8" stroke="none"/>
<path d="M379.67,234.44 V242.7 M378.27,234.44 h2.8 M378.27,242.7 h2.8" fill="none"/>
<rect x="378.27" y="237.17" width="2.8" height="2.8" stroke="none"/>
<path d="M391.2,231.69 V242.7 M389.8,231.69 h2.8 M389.8,242.7 h2.8" fill="none"/>
<rect x="389.8" y="235.8" width="2.8" height="2.8" stroke="none"/>
<path d="M401.72,228.94 V242.7 M400.32,228.94 h2.8 M400.32,242.7 h2.8" fill="none"/>
<rect x="400.32" y="234.42" width="2.8" height="2.8" stroke="none"/>
<path d="M413.25,226.19 V242.7 M411.85,226.19 h2.8 M411.85,242.7 h2.8" fill="none"/>
<rect x="411.85" y="233.04" width="2.8" height="2.8" stroke="none"/>
<path d="M423.77,224.12 V243.39 M422.37,224.12 h2.8 M422.37,243.39 h2.8" fill="none"/>
<rect x="422.37" y="232.36" width="2.8" height="2.8" stroke="none"/>
<path d="M435.3,228.25 V242.01 M433.9,228.25 h2.8 M433.9,242.01 h2.8" fill="none"/>
<rect x="433.9" y="233.73" width="2.8" height="2.8" stroke="none"/>
<path d="M445.82,231 V242.01 M444.42,231 h2.8 M444.42,242.01 h2.8" fill="none"/>
<rect x="444.42" y="235.11" width="2.8" height="2.8" stroke="none"/>
<path d="M457.35,238.57 V260.59 M455.95,238.57 h2.8 M455.95,260.59 h2.8" fill="none"/>
<rect x="455.95" y="248.18" width="2.8" height="2.8" stroke="none"/>
<path d="M467.87,306.68 V309.44 M466.47,306.68 h2.8 M466.47,309.44 h2.8" fill="none"/>
<rect x="466.47" y="306.66" width="2.8" height="2.8" stroke="none"/>
<rect x="478" y="310.09" width="2.8" height="2.8" stroke="none"/>
</g>
<g stroke="#561489" stroke-width="0.7" fill="#561489">
<path d="M365.8,235.82 V249.58 M364.4,235.82 h2.8 M364.4,249.58 h2.8" fill="none"/>
<path d="M365.8,240.8 l1.8,1.9 l-1.8,1.9 l-1.8,-1.9 z" stroke="none"/>
<path d="M379.67,237.2 V248.2 M378.27,237.2 h2.8 M378.27,248.2 h2.8" fill="none"/>
<path d="M379.67,240.8 l1.8,1.9 l-1.8,1.9 l-1.8,-1.9 z" stroke="none"/>
<path d="M391.2,238.57 V249.58 M389.8,238.57 h2.8 M389.8,249.58 h2.8" fill="none"/>
<path d="M391.2,242.18 l1.8,1.9 l-1.8,1.9 l-1.8,-1.9 z" stroke="none"/>
<path d="M401.72,248.89 V258.52 M400.32,248.89 h2.8 M400.32,258.52 h2.8" fill="none"/>
<path d="M401.72,251.81 l1.8,1.9 l-1.8,1.9 l-1.8,-1.9 z" stroke="none"/>
<path d="M413.25,278.48 V286.73 M411.85,278.48 h2.8 M411.85,286.73 h2.8" fill="none"/>
<path d="M413.25,280.7 l1.8,1.9 l-1.8,1.9 l-1.8,-1.9 z" stroke="none"/>
<path d="M423.77,304.96 V307.03 M422.37,304.96 h2.8 M422.37,307.03 h2.8" fill="none"/>
<path d="M423.77,304.1 l1.8,1.9 l-1.8,1.9 l-1.8,-1.9 z" stroke="none"/>
<path d="M435.3,308.75 V310.12 M433.9,308.75 h2.8 M433.9,310.12 h2.8" fill="none"/>
<path d="M435.3,307.54 l1.8,1.9 l-1.8,1.9 l-1.8,-1.9 z" stroke="none"/>
<path d="M445.82,309.52 l1.8,1.9 l-1.8,1.9 l-1.8,-1.9 z" stroke="none"/>
<path d="M457.35,309.59 l1.8,1.9 l-1.8,1.9 l-1.8,-1.9 z" stroke="none"/>
<path d="M467.87,309.6 l1.8,1.9 l-1.8,1.9 l-1.8,-1.9 z" stroke="none"/>
<path d="M479.4,309.6 l1.8,1.9 l-1.8,1.9 l-1.8,-1.9 z" stroke="none"/>
</g>
<path d="M436.6,202.1 h6.4" stroke="#F19A2E" stroke-width="1"/>
<circle cx="439.8" cy="202.1" r="1.3" fill="#F19A2E"/>
<text transform="translate(445.5,204.7) scale(0.9,1)" font-size="7.78" fill="#F3A95A" stroke="#F3A95A" stroke-width="0.05">TPM3-NTRK1 (wt)</text>
<path d="M436.6,210.5 h6.4" stroke="#1C8428" stroke-width="1"/>
<rect x="438.6" y="209.3" width="2.4" height="2.4" fill="#1C8428"/>
<text transform="translate(445.5,213.1) scale(0.9,1)" font-size="7.78" fill="#1C8428" stroke="#1C8428" stroke-width="0.12">G595R</text>
<path d="M436.6,218 h6.4" stroke="#561489" stroke-width="1"/>
<path d="M439.8,216.4 l1.5,1.6 l-1.5,1.6 l-1.5,-1.6 z" fill="#561489"/>
<text transform="translate(445.5,220.6) scale(0.9,1)" font-size="7.78" fill="#561489" stroke="#561489" stroke-width="0.12">G667C</text>
<text x="0.1" y="573.9" font-size="15.3" font-weight="700" fill="#000">F</text>
<g stroke="#151515" stroke-width="1.0" fill="none">
<path d="M28.8,599.28 V692.6"/>
<path d="M28.3,692.1 H34"/>
<path d="M38.6,692.1 H144.9"/>
</g>
<g stroke="#151515" stroke-width="0.8" fill="none">
<path d="M26.4,692.1 H28.8"/>
<path d="M26.4,656.4 H28.8"/>
<path d="M26.4,620.7 H28.8"/>
<path d="M28.8,692.1 v3"/>
<path d="M34,691 v2.2 M38.6,691 v2.2"/>
<path d="M53.8,692.1 v1.6"/>
<path d="M75.6,692.1 v1.6"/>
<path d="M97.4,692.1 v1.6"/>
<path d="M119.2,692.1 v1.6"/>
<path d="M141,692.1 v1.6"/>
</g>
<g fill="#222" stroke="#222" stroke-width="0.17">
<text transform="translate(26.4,694.6) scale(0.93,1)" font-size="7.47" text-anchor="end">0</text>
<text transform="translate(26.4,658.9) scale(0.93,1)" font-size="7.47" text-anchor="end">50</text>
<text transform="translate(26.4,623.2) scale(0.93,1)" font-size="7.47" text-anchor="end">100</text>
<text transform="translate(28.8,701.4) scale(0.93,1)" font-size="7.47" text-anchor="middle">0</text>
<text transform="translate(53.8,701) scale(0.93,1)" font-size="7.47" text-anchor="middle">1</text>
<text transform="translate(75.6,701) scale(0.93,1)" font-size="7.47" text-anchor="middle">10</text>
<text transform="translate(97.4,701) scale(0.93,1)" font-size="7.47" text-anchor="middle">100</text>
<text transform="translate(120.4,701) scale(0.93,1)" font-size="7.47" text-anchor="middle">1,000</text>
<text transform="translate(143.4,701) scale(0.93,1)" font-size="7.47" text-anchor="middle">10,000</text>
</g>
<text transform="translate(33.85,709.3) scale(0.9,1)" font-size="7.87" fill="#222" stroke="#222" stroke-width="0.2">Concentration of ponatinib (nmol/L)</text>
<text transform="translate(12.5,700.8) rotate(-90) scale(0.9,1)" font-size="7.89" fill="#222" stroke="#222" stroke-width="0.2">Relative cell number (% of control)</text>
<path d="M28.8,619.63 L34,619.63 M38.6,619.63 L39.24,619.63 L39.89,619.63 L40.53,619.63 L41.17,619.63 L41.81,619.63 L42.45,619.63 L43.1,619.63 L43.74,619.63 L44.38,619.63 L45.02,619.63 L45.67,619.63 L46.31,619.63 L46.95,619.63 L47.59,619.63 L48.24,619.63 L48.88,619.63 L49.52,619.63 L50.17,619.63 L50.81,619.63 L51.45,619.63 L52.09,619.63 L52.73,619.63 L53.38,619.63 L54.02,619.63 L54.66,619.63 L55.31,619.63 L55.95,619.63 L56.59,619.63 L57.23,619.63 L57.88,619.63 L58.52,619.63 L59.16,619.63 L59.8,619.63 L60.45,619.63 L61.09,619.63 L61.73,619.63 L62.37,619.63 L63.02,619.63 L63.66,619.63 L64.3,619.63 L64.94,619.63 L65.59,619.63 L66.23,619.63 L66.87,619.63 L67.51,619.63 L68.16,619.63 L68.8,619.63 L69.44,619.63 L70.08,619.63 L70.73,619.63 L71.37,619.63 L72.01,619.63 L72.65,619.63 L73.3,619.63 L73.94,619.63 L74.58,619.63 L75.22,619.63 L75.87,619.63 L76.51,619.63 L77.15,619.63 L77.79,619.63 L78.44,619.63 L79.08,619.63 L79.72,619.63 L80.36,619.63 L81.01,619.63 L81.65,619.63 L82.29,619.63 L82.93,619.63 L83.58,619.63 L84.22,619.63 L84.86,619.63 L85.5,619.63 L86.15,619.63 L86.79,619.64 L87.43,619.65 L88.07,619.66 L88.72,619.7 L89.36,619.77 L90,619.9 L90.64,620.16 L91.28,620.67 L91.93,621.65 L92.57,623.52 L93.21,626.91 L93.86,632.71 L94.5,641.57 L95.14,653.05 L95.78,665.13 L96.43,675.35 L97.07,682.51 L97.71,686.89 L98.35,689.36 L99,690.68 L99.64,691.38 L100.28,691.73 L100.92,691.91 L101.57,692 L102.21,692.05 L102.85,692.08 L103.49,692.09 L104.13,692.09 L104.78,692.1 L105.42,692.1 L106.06,692.1 L106.71,692.1 L107.35,692.1 L107.99,692.1 L108.63,692.1 L109.28,692.1 L109.92,692.1 L110.56,692.1 L111.2,692.1 L111.84,692.1 L112.49,692.1 L113.13,692.1 L113.77,692.1 L114.42,692.1 L115.06,692.1 L115.7,692.1 L116.34,692.1 L116.99,692.1 L117.63,692.1 L118.27,692.1 L118.91,692.1 L119.56,692.1 L120.2,692.1 L120.84,692.1 L121.48,692.1 L122.12,692.1 L122.77,692.1 L123.41,692.1 L124.05,692.1 L124.69,692.1 L125.34,692.1 L125.98,692.1 L126.62,692.1 L127.27,692.1 L127.91,692.1 L128.55,692.1 L129.19,692.1 L129.84,692.1 L130.48,692.1 L131.12,692.1 L131.76,692.1 L132.41,692.1 L133.05,692.1 L133.69,692.1 L134.33,692.1 L134.98,692.1 L135.62,692.1 L136.26,692.1 L136.9,692.1 L137.55,692.1 L138.19,692.1 L138.83,692.1 L139.47,692.1 L140.12,692.1 L140.76,692.1 L141.4,692.1" fill="none" stroke="#F19A2E" stroke-width="1.05" stroke-linejoin="round"/>
<path d="M28.8,616.42 L34,616.42 M38.6,616.42 L39.24,616.42 L39.89,616.42 L40.53,616.42 L41.17,616.42 L41.81,616.42 L42.45,616.42 L43.1,616.42 L43.74,616.42 L44.38,616.42 L45.02,616.42 L45.67,616.42 L46.31,616.42 L46.95,616.42 L47.59,616.42 L48.24,616.42 L48.88,616.42 L49.52,616.42 L50.17,616.42 L50.81,616.42 L51.45,616.42 L52.09,616.42 L52.73,616.42 L53.38,616.42 L54.02,616.42 L54.66,616.42 L55.31,616.42 L55.95,616.42 L56.59,616.42 L57.23,616.42 L57.88,616.42 L58.52,616.42 L59.16,616.42 L59.8,616.42 L60.45,616.42 L61.09,616.42 L61.73,616.42 L62.37,616.42 L63.02,616.42 L63.66,616.42 L64.3,616.42 L64.94,616.42 L65.59,616.42 L66.23,616.42 L66.87,616.42 L67.51,616.42 L68.16,616.42 L68.8,616.42 L69.44,616.42 L70.08,616.42 L70.73,616.42 L71.37,616.42 L72.01,616.42 L72.65,616.42 L73.3,616.42 L73.94,616.42 L74.58,616.42 L75.22,616.42 L75.87,616.42 L76.51,616.42 L77.15,616.42 L77.79,616.42 L78.44,616.42 L79.08,616.42 L79.72,616.42 L80.36,616.42 L81.01,616.42 L81.65,616.42 L82.29,616.42 L82.93,616.42 L83.58,616.42 L84.22,616.42 L84.86,616.42 L85.5,616.42 L86.15,616.42 L86.79,616.42 L87.43,616.42 L88.07,616.42 L88.72,616.42 L89.36,616.42 L90,616.42 L90.64,616.42 L91.28,616.42 L91.93,616.42 L92.57,616.42 L93.21,616.42 L93.86,616.42 L94.5,616.42 L95.14,616.42 L95.78,616.42 L96.43,616.42 L97.07,616.42 L97.71,616.43 L98.35,616.43 L99,616.44 L99.64,616.46 L100.28,616.5 L100.92,616.55 L101.57,616.65 L102.21,616.82 L102.85,617.12 L103.49,617.61 L104.13,618.45 L104.78,619.85 L105.42,622.14 L106.06,625.76 L106.71,631.18 L107.35,638.69 L107.99,648.04 L108.63,658.24 L109.28,667.89 L109.92,675.85 L110.56,681.73 L111.2,685.7 L111.84,688.25 L112.49,689.81 L113.13,690.75 L113.77,691.31 L114.42,691.64 L115.06,691.83 L115.7,691.94 L116.34,692.01 L116.99,692.05 L117.63,692.07 L118.27,692.08 L118.91,692.09 L119.56,692.09 L120.2,692.1 L120.84,692.1 L121.48,692.1 L122.12,692.1 L122.77,692.1 L123.41,692.1 L124.05,692.1 L124.69,692.1 L125.34,692.1 L125.98,692.1 L126.62,692.1 L127.27,692.1 L127.91,692.1 L128.55,692.1 L129.19,692.1 L129.84,692.1 L130.48,692.1 L131.12,692.1 L131.76,692.1 L132.41,692.1 L133.05,692.1 L133.69,692.1 L134.33,692.1 L134.98,692.1 L135.62,692.1 L136.26,692.1 L136.9,692.1 L137.55,692.1 L138.19,692.1 L138.83,692.1 L139.47,692.1 L140.12,692.1 L140.76,692.1 L141.4,692.1" fill="none" stroke="#1C8428" stroke-width="1.05" stroke-linejoin="round"/>
<path d="M28.8,624.27 L34,624.29 M38.6,624.32 L39.24,624.32 L39.89,624.33 L40.53,624.34 L41.17,624.36 L41.81,624.37 L42.45,624.39 L43.1,624.41 L43.74,624.43 L44.38,624.46 L45.02,624.49 L45.67,624.52 L46.31,624.57 L46.95,624.62 L47.59,624.67 L48.24,624.74 L48.88,624.82 L49.52,624.91 L50.17,625.01 L50.81,625.14 L51.45,625.28 L52.09,625.44 L52.73,625.63 L53.38,625.86 L54.02,626.11 L54.66,626.41 L55.31,626.75 L55.95,627.15 L56.59,627.61 L57.23,628.13 L57.88,628.73 L58.52,629.42 L59.16,630.2 L59.8,631.09 L60.45,632.09 L61.09,633.22 L61.73,634.49 L62.37,635.9 L63.02,637.46 L63.66,639.18 L64.3,641.04 L64.94,643.06 L65.59,645.23 L66.23,647.52 L66.87,649.93 L67.51,652.43 L68.16,654.99 L68.8,657.6 L69.44,660.21 L70.08,662.79 L70.73,665.32 L71.37,667.78 L72.01,670.12 L72.65,672.35 L73.3,674.43 L73.94,676.37 L74.58,678.15 L75.22,679.78 L75.87,681.26 L76.51,682.59 L77.15,683.78 L77.79,684.84 L78.44,685.78 L79.08,686.61 L79.72,687.34 L80.36,687.98 L81.01,688.54 L81.65,689.02 L82.29,689.44 L82.93,689.81 L83.58,690.13 L84.22,690.4 L84.86,690.64 L85.5,690.84 L86.15,691.02 L86.79,691.17 L87.43,691.3 L88.07,691.42 L88.72,691.51 L89.36,691.6 L90,691.67 L90.64,691.73 L91.28,691.78 L91.93,691.83 L92.57,691.87 L93.21,691.9 L93.86,691.93 L94.5,691.95 L95.14,691.97 L95.78,691.99 L96.43,692.01 L97.07,692.02 L97.71,692.03 L98.35,692.04 L99,692.05 L99.64,692.06 L100.28,692.06 L100.92,692.07 L101.57,692.07 L102.21,692.08 L102.85,692.08 L103.49,692.08 L104.13,692.09 L104.78,692.09 L105.42,692.09 L106.06,692.09 L106.71,692.09 L107.35,692.09 L107.99,692.09 L108.63,692.1 L109.28,692.1 L109.92,692.1 L110.56,692.1 L111.2,692.1 L111.84,692.1 L112.49,692.1 L113.13,692.1 L113.77,692.1 L114.42,692.1 L115.06,692.1 L115.7,692.1 L116.34,692.1 L116.99,692.1 L117.63,692.1 L118.27,692.1 L118.91,692.1 L119.56,692.1 L120.2,692.1 L120.84,692.1 L121.48,692.1 L122.12,692.1 L122.77,692.1 L123.41,692.1 L124.05,692.1 L124.69,692.1 L125.34,692.1 L125.98,692.1 L126.62,692.1 L127.27,692.1 L127.91,692.1 L128.55,692.1 L129.19,692.1 L129.84,692.1 L130.48,692.1 L131.12,692.1 L131.76,692.1 L132.41,692.1 L133.05,692.1 L133.69,692.1 L134.33,692.1 L134.98,692.1 L135.62,692.1 L136.26,692.1 L136.9,692.1 L137.55,692.1 L138.19,692.1 L138.83,692.1 L139.47,692.1 L140.12,692.1 L140.76,692.1 L141.4,692.1" fill="none" stroke="#561489" stroke-width="1.05" stroke-linejoin="round"/>
<g stroke="#F19A2E" stroke-width="0.7" fill="#F19A2E">
<path d="M28.8,610.7 V630.7 M27.4,610.7 h2.8 M27.4,630.7 h2.8" fill="none"/>
<circle cx="28.8" cy="620.7" r="1.5" stroke="none"/>
<path d="M42.4,614.99 V629.27 M41,614.99 h2.8 M41,629.27 h2.8" fill="none"/>
<circle cx="42.4" cy="622.13" r="1.5" stroke="none"/>
<path d="M53.8,613.56 V627.84 M52.4,613.56 h2.8 M52.4,627.84 h2.8" fill="none"/>
<circle cx="53.8" cy="620.7" r="1.5" stroke="none"/>
<path d="M64.2,610.7 V627.84 M62.8,610.7 h2.8 M62.8,627.84 h2.8" fill="none"/>
<circle cx="64.2" cy="619.27" r="1.5" stroke="none"/>
<path d="M75.6,608.56 V628.55 M74.2,608.56 h2.8 M74.2,628.55 h2.8" fill="none"/>
<circle cx="75.6" cy="618.56" r="1.5" stroke="none"/>
<path d="M86,610.7 V629.27 M84.6,610.7 h2.8 M84.6,629.27 h2.8" fill="none"/>
<circle cx="86" cy="619.99" r="1.5" stroke="none"/>
<path d="M97.4,682.1 V689.24 M96,682.1 h2.8 M96,689.24 h2.8" fill="none"/>
<circle cx="97.4" cy="685.67" r="1.5" stroke="none"/>
<circle cx="107.8" cy="692.1" r="1.5" stroke="none"/>
<circle cx="119.2" cy="692.1" r="1.5" stroke="none"/>
<circle cx="129.6" cy="692.1" r="1.5" stroke="none"/>
<circle cx="141" cy="692.1" r="1.5" stroke="none"/>
</g>
<g stroke="#1C8428" stroke-width="0.7" fill="#1C8428">
<path d="M28.8,614.27 V619.99 M27.4,614.27 h2.8 M27.4,619.99 h2.8" fill="none"/>
<rect x="27.4" y="615.73" width="2.8" height="2.8" stroke="none"/>
<path d="M42.4,622.13 V626.41 M41,622.13 h2.8 M41,626.41 h2.8" fill="none"/>
<rect x="41" y="622.87" width="2.8" height="2.8" stroke="none"/>
<path d="M53.8,612.85 V624.27 M52.4,612.85 h2.8 M52.4,624.27 h2.8" fill="none"/>
<rect x="52.4" y="617.16" width="2.8" height="2.8" stroke="none"/>
<path d="M64.2,608.56 V622.84 M62.8,608.56 h2.8 M62.8,622.84 h2.8" fill="none"/>
<rect x="62.8" y="614.3" width="2.8" height="2.8" stroke="none"/>
<path d="M75.6,602.14 V622.13 M74.2,602.14 h2.8 M74.2,622.13 h2.8" fill="none"/>
<rect x="74.2" y="610.73" width="2.8" height="2.8" stroke="none"/>
<path d="M86,605.71 V618.56 M84.6,605.71 h2.8 M84.6,618.56 h2.8" fill="none"/>
<rect x="84.6" y="610.73" width="2.8" height="2.8" stroke="none"/>
<path d="M97.4,610.7 V620.7 M96,610.7 h2.8 M96,620.7 h2.8" fill="none"/>
<rect x="96" y="614.3" width="2.8" height="2.8" stroke="none"/>
<path d="M107.8,642.12 V647.83 M106.4,642.12 h2.8 M106.4,647.83 h2.8" fill="none"/>
<rect x="106.4" y="643.58" width="2.8" height="2.8" stroke="none"/>
<rect x="117.8" y="690.69" width="2.8" height="2.8" stroke="none"/>
<rect x="128.2" y="690.7" width="2.8" height="2.8" stroke="none"/>
<rect x="139.6" y="690.7" width="2.8" height="2.8" stroke="none"/>
</g>
<g stroke="#561489" stroke-width="0.7" fill="#561489">
<path d="M28.8,617.84 V624.98 M27.4,617.84 h2.8 M27.4,624.98 h2.8" fill="none"/>
<path d="M28.8,619.51 l1.8,1.9 l-1.8,1.9 l-1.8,-1.9 z" stroke="none"/>
<path d="M42.4,619.99 V629.98 M41,619.99 h2.8 M41,629.98 h2.8" fill="none"/>
<path d="M42.4,623.08 l1.8,1.9 l-1.8,1.9 l-1.8,-1.9 z" stroke="none"/>
<path d="M53.8,621.41 V631.41 M52.4,621.41 h2.8 M52.4,631.41 h2.8" fill="none"/>
<path d="M53.8,624.51 l1.8,1.9 l-1.8,1.9 l-1.8,-1.9 z" stroke="none"/>
<path d="M64.2,637.84 V643.55 M62.8,637.84 h2.8 M62.8,643.55 h2.8" fill="none"/>
<path d="M64.2,638.79 l1.8,1.9 l-1.8,1.9 l-1.8,-1.9 z" stroke="none"/>
<path d="M75.6,679.25 V682.1 M74.2,679.25 h2.8 M74.2,682.1 h2.8" fill="none"/>
<path d="M75.6,678.78 l1.8,1.9 l-1.8,1.9 l-1.8,-1.9 z" stroke="none"/>
<path d="M86,689.08 l1.8,1.9 l-1.8,1.9 l-1.8,-1.9 z" stroke="none"/>
<path d="M97.4,690.13 l1.8,1.9 l-1.8,1.9 l-1.8,-1.9 z" stroke="none"/>
<path d="M107.8,690.19 l1.8,1.9 l-1.8,1.9 l-1.8,-1.9 z" stroke="none"/>
<path d="M119.2,690.2 l1.8,1.9 l-1.8,1.9 l-1.8,-1.9 z" stroke="none"/>
<path d="M129.6,690.2 l1.8,1.9 l-1.8,1.9 l-1.8,-1.9 z" stroke="none"/>
<path d="M141,690.2 l1.8,1.9 l-1.8,1.9 l-1.8,-1.9 z" stroke="none"/>
</g>
<path d="M104.3,595.8 h6.4" stroke="#F19A2E" stroke-width="1"/>
<circle cx="107.5" cy="595.8" r="1.3" fill="#F19A2E"/>
<text transform="translate(113.5,598.4) scale(0.9,1)" font-size="7.78" fill="#F3A95A" stroke="#F3A95A" stroke-width="0.05">TPM3-NTRK1 (wt)</text>
<path d="M104.3,604 h6.4" stroke="#1C8428" stroke-width="1"/>
<rect x="106.3" y="602.8" width="2.4" height="2.4" fill="#1C8428"/>
<text transform="translate(113.5,606.6) scale(0.9,1)" font-size="7.78" fill="#1C8428" stroke="#1C8428" stroke-width="0.12">G595R</text>
<path d="M104.3,612.6 h6.4" stroke="#561489" stroke-width="1"/>
<path d="M107.5,611 l1.5,1.6 l-1.5,1.6 l-1.5,-1.6 z" fill="#561489"/>
<text transform="translate(113.5,615.2) scale(0.9,1)" font-size="7.78" fill="#561489" stroke="#561489" stroke-width="0.12">G667C</text>
<text x="184.2" y="573.8" font-size="15.3" font-weight="700" fill="#000">G</text>
<g stroke="#151515" stroke-width="1.0" fill="none">
<path d="M196.8,600.13 V692.8"/>
<path d="M196.3,692.3 H202"/>
<path d="M206.6,692.3 H309.9"/>
</g>
<g stroke="#151515" stroke-width="0.8" fill="none">
<path d="M194.4,692.3 H196.8"/>
<path d="M194.4,656.85 H196.8"/>
<path d="M194.4,621.4 H196.8"/>
<path d="M196.8,692.3 v3"/>
<path d="M202,691.2 v2.2 M206.6,691.2 v2.2"/>
<path d="M221,692.3 v1.6"/>
<path d="M242.35,692.3 v1.6"/>
<path d="M263.7,692.3 v1.6"/>
<path d="M285.05,692.3 v1.6"/>
<path d="M306.4,692.3 v1.6"/>
</g>
<g fill="#222" stroke="#222" stroke-width="0.17">
<text transform="translate(194.4,694.8) scale(0.93,1)" font-size="7.47" text-anchor="end">0</text>
<text transform="translate(194.4,659.35) scale(0.93,1)" font-size="7.47" text-anchor="end">50</text>
<text transform="translate(194.4,623.9) scale(0.93,1)" font-size="7.47" text-anchor="end">100</text>
<text transform="translate(196.8,701.4) scale(0.93,1)" font-size="7.47" text-anchor="middle">0</text>
<text transform="translate(221,701) scale(0.93,1)" font-size="7.47" text-anchor="middle">1</text>
<text transform="translate(242.35,701) scale(0.93,1)" font-size="7.47" text-anchor="middle">10</text>
<text transform="translate(263.7,701) scale(0.93,1)" font-size="7.47" text-anchor="middle">100</text>
<text transform="translate(286.05,701) scale(0.93,1)" font-size="7.47" text-anchor="middle">1,000</text>
<text transform="translate(308.8,701) scale(0.93,1)" font-size="7.47" text-anchor="middle">10,000</text>
</g>
<text transform="translate(199.2,709.3) scale(0.9,1)" font-size="8" fill="#222" stroke="#222" stroke-width="0.2">Concentration of nintedanib (nmol/L)</text>
<text transform="translate(180.2,701.3) rotate(-90) scale(0.9,1)" font-size="7.89" fill="#222" stroke="#222" stroke-width="0.2">Relative cell number (% of control)</text>
<path d="M196.8,622.82 L202,622.82 M206.6,622.82 L207.22,622.82 L207.85,622.82 L208.47,622.82 L209.1,622.82 L209.72,622.82 L210.34,622.82 L210.97,622.82 L211.59,622.82 L212.21,622.82 L212.84,622.82 L213.46,622.82 L214.09,622.82 L214.71,622.82 L215.33,622.82 L215.96,622.82 L216.58,622.82 L217.2,622.82 L217.83,622.82 L218.45,622.82 L219.08,622.82 L219.7,622.82 L220.32,622.82 L220.95,622.82 L221.57,622.82 L222.19,622.82 L222.82,622.82 L223.44,622.82 L224.07,622.82 L224.69,622.82 L225.31,622.82 L225.94,622.82 L226.56,622.82 L227.18,622.82 L227.81,622.82 L228.43,622.82 L229.06,622.82 L229.68,622.83 L230.3,622.83 L230.93,622.83 L231.55,622.83 L232.17,622.83 L232.8,622.84 L233.42,622.84 L234.05,622.84 L234.67,622.85 L235.29,622.86 L235.92,622.86 L236.54,622.87 L237.16,622.88 L237.79,622.89 L238.41,622.9 L239.04,622.92 L239.66,622.94 L240.28,622.96 L240.91,622.99 L241.53,623.02 L242.15,623.05 L242.78,623.1 L243.4,623.15 L244.03,623.21 L244.65,623.28 L245.27,623.36 L245.9,623.46 L246.52,623.58 L247.14,623.72 L247.77,623.88 L248.39,624.07 L249.01,624.29 L249.64,624.56 L250.26,624.86 L250.89,625.23 L251.51,625.65 L252.13,626.14 L252.76,626.72 L253.38,627.39 L254,628.16 L254.63,629.05 L255.25,630.07 L255.88,631.24 L256.5,632.56 L257.12,634.06 L257.75,635.74 L258.37,637.6 L259,639.65 L259.62,641.89 L260.24,644.3 L260.87,646.87 L261.49,649.58 L262.11,652.4 L262.74,655.28 L263.36,658.2 L263.99,661.11 L264.61,663.97 L265.23,666.74 L265.86,669.39 L266.48,671.9 L267.1,674.23 L267.73,676.39 L268.35,678.36 L268.98,680.14 L269.6,681.74 L270.22,683.16 L270.85,684.41 L271.47,685.51 L272.09,686.48 L272.72,687.31 L273.34,688.04 L273.96,688.66 L274.59,689.2 L275.21,689.66 L275.84,690.06 L276.46,690.39 L277.08,690.68 L277.71,690.93 L278.33,691.14 L278.95,691.31 L279.58,691.47 L280.2,691.59 L280.83,691.7 L281.45,691.79 L282.07,691.87 L282.7,691.94 L283.32,691.99 L283.94,692.04 L284.57,692.08 L285.19,692.11 L285.82,692.14 L286.44,692.17 L287.06,692.19 L287.69,692.21 L288.31,692.22 L288.94,692.23 L289.56,692.24 L290.18,692.25 L290.81,692.26 L291.43,692.27 L292.05,692.27 L292.68,692.28 L293.3,692.28 L293.92,692.28 L294.55,692.29 L295.17,692.29 L295.8,692.29 L296.42,692.29 L297.04,692.29 L297.67,692.29 L298.29,692.29 L298.91,692.3 L299.54,692.3 L300.16,692.3 L300.79,692.3 L301.41,692.3 L302.03,692.3 L302.66,692.3 L303.28,692.3 L303.9,692.3 L304.53,692.3 L305.15,692.3 L305.78,692.3 L306.4,692.3" fill="none" stroke="#F19A2E" stroke-width="1.05" stroke-linejoin="round"/>
<path d="M196.8,619.98 L202,619.98 M206.6,619.98 L207.22,619.98 L207.85,619.98 L208.47,619.98 L209.1,619.98 L209.72,619.98 L210.34,619.98 L210.97,619.98 L211.59,619.98 L212.21,619.98 L212.84,619.98 L213.46,619.98 L214.09,619.98 L214.71,619.98 L215.33,619.98 L215.96,619.98 L216.58,619.98 L217.2,619.98 L217.83,619.98 L218.45,619.99 L219.08,619.99 L219.7,619.99 L220.32,619.99 L220.95,619.99 L221.57,619.99 L222.19,619.99 L222.82,619.99 L223.44,619.99 L224.07,619.99 L224.69,619.99 L225.31,619.99 L225.94,619.99 L226.56,619.99 L227.18,619.99 L227.81,620 L228.43,620 L229.06,620 L229.68,620 L230.3,620 L230.93,620.01 L231.55,620.01 L232.17,620.01 L232.8,620.01 L233.42,620.02 L234.05,620.02 L234.67,620.02 L235.29,620.03 L235.92,620.03 L236.54,620.04 L237.16,620.05 L237.79,620.05 L238.41,620.06 L239.04,620.07 L239.66,620.08 L240.28,620.09 L240.91,620.1 L241.53,620.11 L242.15,620.13 L242.78,620.14 L243.4,620.16 L244.03,620.18 L244.65,620.2 L245.27,620.22 L245.9,620.24 L246.52,620.27 L247.14,620.3 L247.77,620.34 L248.39,620.37 L249.01,620.41 L249.64,620.46 L250.26,620.51 L250.89,620.57 L251.51,620.63 L252.13,620.7 L252.76,620.77 L253.38,620.85 L254,620.95 L254.63,621.05 L255.25,621.16 L255.88,621.28 L256.5,621.41 L257.12,621.56 L257.75,621.73 L258.37,621.91 L259,622.11 L259.62,622.32 L260.24,622.56 L260.87,622.83 L261.49,623.12 L262.11,623.43 L262.74,623.78 L263.36,624.16 L263.99,624.58 L264.61,625.03 L265.23,625.52 L265.86,626.06 L266.48,626.65 L267.1,627.29 L267.73,627.98 L268.35,628.72 L268.98,629.53 L269.6,630.39 L270.22,631.33 L270.85,632.33 L271.47,633.39 L272.09,634.53 L272.72,635.74 L273.34,637.02 L273.96,638.37 L274.59,639.78 L275.21,641.27 L275.84,642.81 L276.46,644.42 L277.08,646.08 L277.71,647.78 L278.33,649.53 L278.95,651.31 L279.58,653.11 L280.2,654.93 L280.83,656.75 L281.45,658.57 L282.07,660.38 L282.7,662.17 L283.32,663.93 L283.94,665.64 L284.57,667.32 L285.19,668.94 L285.82,670.51 L286.44,672.01 L287.06,673.45 L287.69,674.83 L288.31,676.13 L288.94,677.36 L289.56,678.52 L290.18,679.61 L290.81,680.63 L291.43,681.59 L292.05,682.47 L292.68,683.3 L293.3,684.07 L293.92,684.77 L294.55,685.43 L295.17,686.03 L295.8,686.58 L296.42,687.09 L297.04,687.56 L297.67,687.99 L298.29,688.38 L298.91,688.74 L299.54,689.06 L300.16,689.36 L300.79,689.63 L301.41,689.88 L302.03,690.11 L302.66,690.31 L303.28,690.5 L303.9,690.67 L304.53,690.82 L305.15,690.96 L305.78,691.09 L306.4,691.2" fill="none" stroke="#1C8428" stroke-width="1.05" stroke-linejoin="round"/>
<path d="M196.8,624.24 L202,624.24 M206.6,624.24 L207.22,624.24 L207.85,624.24 L208.47,624.24 L209.1,624.24 L209.72,624.24 L210.34,624.24 L210.97,624.24 L211.59,624.24 L212.21,624.24 L212.84,624.24 L213.46,624.24 L214.09,624.24 L214.71,624.24 L215.33,624.24 L215.96,624.25 L216.58,624.25 L217.2,624.25 L217.83,624.25 L218.45,624.26 L219.08,624.26 L219.7,624.27 L220.32,624.27 L220.95,624.28 L221.57,624.29 L222.19,624.3 L222.82,624.31 L223.44,624.32 L224.07,624.34 L224.69,624.36 L225.31,624.38 L225.94,624.41 L226.56,624.44 L227.18,624.48 L227.81,624.53 L228.43,624.58 L229.06,624.65 L229.68,624.73 L230.3,624.82 L230.93,624.93 L231.55,625.07 L232.17,625.22 L232.8,625.41 L233.42,625.63 L234.05,625.89 L234.67,626.2 L235.29,626.57 L235.92,627 L236.54,627.51 L237.16,628.1 L237.79,628.8 L238.41,629.61 L239.04,630.55 L239.66,631.63 L240.28,632.88 L240.91,634.3 L241.53,635.91 L242.15,637.71 L242.78,639.72 L243.4,641.93 L244.03,644.33 L244.65,646.91 L245.27,649.65 L245.9,652.51 L246.52,655.46 L247.14,658.45 L247.77,661.44 L248.39,664.39 L249.01,667.23 L249.64,669.96 L250.26,672.52 L250.89,674.9 L251.51,677.08 L252.13,679.06 L252.76,680.84 L253.38,682.42 L254,683.82 L254.63,685.04 L255.25,686.11 L255.88,687.03 L256.5,687.83 L257.12,688.51 L257.75,689.09 L258.37,689.59 L259,690.01 L259.62,690.37 L260.24,690.68 L260.87,690.93 L261.49,691.15 L262.11,691.33 L262.74,691.49 L263.36,691.62 L263.99,691.73 L264.61,691.82 L265.23,691.9 L265.86,691.96 L266.48,692.02 L267.1,692.06 L267.73,692.1 L268.35,692.13 L268.98,692.16 L269.6,692.18 L270.22,692.2 L270.85,692.22 L271.47,692.23 L272.09,692.24 L272.72,692.25 L273.34,692.26 L273.96,692.27 L274.59,692.27 L275.21,692.28 L275.84,692.28 L276.46,692.28 L277.08,692.29 L277.71,692.29 L278.33,692.29 L278.95,692.29 L279.58,692.29 L280.2,692.29 L280.83,692.3 L281.45,692.3 L282.07,692.3 L282.7,692.3 L283.32,692.3 L283.94,692.3 L284.57,692.3 L285.19,692.3 L285.82,692.3 L286.44,692.3 L287.06,692.3 L287.69,692.3 L288.31,692.3 L288.94,692.3 L289.56,692.3 L290.18,692.3 L290.81,692.3 L291.43,692.3 L292.05,692.3 L292.68,692.3 L293.3,692.3 L293.92,692.3 L294.55,692.3 L295.17,692.3 L295.8,692.3 L296.42,692.3 L297.04,692.3 L297.67,692.3 L298.29,692.3 L298.91,692.3 L299.54,692.3 L300.16,692.3 L300.79,692.3 L301.41,692.3 L302.03,692.3 L302.66,692.3 L303.28,692.3 L303.9,692.3 L304.53,692.3 L305.15,692.3 L305.78,692.3 L306.4,692.3" fill="none" stroke="#561489" stroke-width="1.05" stroke-linejoin="round"/>
<g stroke="#F19A2E" stroke-width="0.7" fill="#F19A2E">
<path d="M196.8,610.76 V632.03 M195.4,610.76 h2.8 M195.4,632.03 h2.8" fill="none"/>
<circle cx="196.8" cy="621.4" r="1.5" stroke="none"/>
<path d="M209.84,615.73 V629.91 M208.44,615.73 h2.8 M208.44,629.91 h2.8" fill="none"/>
<circle cx="209.84" cy="622.82" r="1.5" stroke="none"/>
<path d="M221,612.18 V630.62 M219.6,612.18 h2.8 M219.6,630.62 h2.8" fill="none"/>
<circle cx="221" cy="621.4" r="1.5" stroke="none"/>
<path d="M231.19,613.6 V632.03 M229.79,613.6 h2.8 M229.79,632.03 h2.8" fill="none"/>
<circle cx="231.19" cy="622.82" r="1.5" stroke="none"/>
<path d="M242.35,614.31 V631.33 M240.95,614.31 h2.8 M240.95,631.33 h2.8" fill="none"/>
<circle cx="242.35" cy="622.82" r="1.5" stroke="none"/>
<path d="M252.54,617.15 V635.58 M251.14,617.15 h2.8 M251.14,635.58 h2.8" fill="none"/>
<circle cx="252.54" cy="626.36" r="1.5" stroke="none"/>
<path d="M263.7,654.72 V661.81 M262.3,654.72 h2.8 M262.3,661.81 h2.8" fill="none"/>
<circle cx="263.7" cy="658.27" r="1.5" stroke="none"/>
<path d="M273.89,689.46 V690.88 M272.49,689.46 h2.8 M272.49,690.88 h2.8" fill="none"/>
<circle cx="273.89" cy="690.17" r="1.5" stroke="none"/>
<circle cx="285.05" cy="692.11" r="1.5" stroke="none"/>
<circle cx="295.24" cy="692.29" r="1.5" stroke="none"/>
<circle cx="306.4" cy="692.3" r="1.5" stroke="none"/>
</g>
<g stroke="#1C8428" stroke-width="0.7" fill="#1C8428">
<path d="M196.8,617.86 V623.53 M195.4,617.86 h2.8 M195.4,623.53 h2.8" fill="none"/>
<rect x="195.4" y="619.29" width="2.8" height="2.8" stroke="none"/>
<path d="M209.84,617.15 V625.65 M208.44,617.15 h2.8 M208.44,625.65 h2.8" fill="none"/>
<rect x="208.44" y="620" width="2.8" height="2.8" stroke="none"/>
<path d="M221,615.02 V626.36 M219.6,615.02 h2.8 M219.6,626.36 h2.8" fill="none"/>
<rect x="219.6" y="619.29" width="2.8" height="2.8" stroke="none"/>
<path d="M231.19,610.06 V627.07 M229.79,610.06 h2.8 M229.79,627.07 h2.8" fill="none"/>
<rect x="229.79" y="617.16" width="2.8" height="2.8" stroke="none"/>
<path d="M242.35,607.22 V629.91 M240.95,607.22 h2.8 M240.95,629.91 h2.8" fill="none"/>
<rect x="240.95" y="617.16" width="2.8" height="2.8" stroke="none"/>
<path d="M252.54,607.22 V627.07 M251.14,607.22 h2.8 M251.14,627.07 h2.8" fill="none"/>
<rect x="251.14" y="615.75" width="2.8" height="2.8" stroke="none"/>
<path d="M263.7,611.47 V629.91 M262.3,611.47 h2.8 M262.3,629.91 h2.8" fill="none"/>
<rect x="262.3" y="619.29" width="2.8" height="2.8" stroke="none"/>
<path d="M273.89,634.16 V642.67 M272.49,634.16 h2.8 M272.49,642.67 h2.8" fill="none"/>
<rect x="272.49" y="637.02" width="2.8" height="2.8" stroke="none"/>
<path d="M285.05,665.36 V669.61 M283.65,665.36 h2.8 M283.65,669.61 h2.8" fill="none"/>
<rect x="283.65" y="666.08" width="2.8" height="2.8" stroke="none"/>
<path d="M295.24,685.21 V686.63 M293.84,685.21 h2.8 M293.84,686.63 h2.8" fill="none"/>
<rect x="293.84" y="684.52" width="2.8" height="2.8" stroke="none"/>
<rect x="305" y="689.8" width="2.8" height="2.8" stroke="none"/>
</g>
<g stroke="#561489" stroke-width="0.7" fill="#561489">
<path d="M196.8,618.56 V625.65 M195.4,618.56 h2.8 M195.4,625.65 h2.8" fill="none"/>
<path d="M196.8,620.21 l1.8,1.9 l-1.8,1.9 l-1.8,-1.9 z" stroke="none"/>
<path d="M209.84,622.11 V630.62 M208.44,622.11 h2.8 M208.44,630.62 h2.8" fill="none"/>
<path d="M209.84,624.46 l1.8,1.9 l-1.8,1.9 l-1.8,-1.9 z" stroke="none"/>
<path d="M221,620.69 V630.62 M219.6,620.69 h2.8 M219.6,630.62 h2.8" fill="none"/>
<path d="M221,623.75 l1.8,1.9 l-1.8,1.9 l-1.8,-1.9 z" stroke="none"/>
<path d="M231.19,621.4 V631.33 M229.79,621.4 h2.8 M229.79,631.33 h2.8" fill="none"/>
<path d="M231.19,624.46 l1.8,1.9 l-1.8,1.9 l-1.8,-1.9 z" stroke="none"/>
<path d="M242.35,633.45 V644.8 M240.95,633.45 h2.8 M240.95,644.8 h2.8" fill="none"/>
<path d="M242.35,637.23 l1.8,1.9 l-1.8,1.9 l-1.8,-1.9 z" stroke="none"/>
<path d="M252.54,678.83 V681.66 M251.14,678.83 h2.8 M251.14,681.66 h2.8" fill="none"/>
<path d="M252.54,678.35 l1.8,1.9 l-1.8,1.9 l-1.8,-1.9 z" stroke="none"/>
<path d="M263.7,690.17 V691.59 M262.3,690.17 h2.8 M262.3,691.59 h2.8" fill="none"/>
<path d="M263.7,688.98 l1.8,1.9 l-1.8,1.9 l-1.8,-1.9 z" stroke="none"/>
<path d="M273.89,690.36 l1.8,1.9 l-1.8,1.9 l-1.8,-1.9 z" stroke="none"/>
<path d="M285.05,690.4 l1.8,1.9 l-1.8,1.9 l-1.8,-1.9 z" stroke="none"/>
<path d="M295.24,690.4 l1.8,1.9 l-1.8,1.9 l-1.8,-1.9 z" stroke="none"/>
<path d="M306.4,690.4 l1.8,1.9 l-1.8,1.9 l-1.8,-1.9 z" stroke="none"/>
</g>
<path d="M270.4,601.5 h6.4" stroke="#F19A2E" stroke-width="1"/>
<circle cx="273.6" cy="601.5" r="1.3" fill="#F19A2E"/>
<text transform="translate(280.7,604.1) scale(0.9,1)" font-size="7.78" fill="#F3A95A" stroke="#F3A95A" stroke-width="0.05">TPM3-NTRK1 (wt)</text>
<path d="M270.4,609.7 h6.4" stroke="#1C8428" stroke-width="1"/>
<rect x="272.4" y="608.5" width="2.4" height="2.4" fill="#1C8428"/>
<text transform="translate(280.7,612.3) scale(0.9,1)" font-size="7.78" fill="#1C8428" stroke="#1C8428" stroke-width="0.12">G595R</text>
<path d="M270.4,617 h6.4" stroke="#561489" stroke-width="1"/>
<path d="M273.6,615.4 l1.5,1.6 l-1.5,1.6 l-1.5,-1.6 z" fill="#561489"/>
<text transform="translate(280.7,619.6) scale(0.9,1)" font-size="7.78" fill="#561489" stroke="#561489" stroke-width="0.12">G667C</text>
<text x="334.7" y="573.9" font-size="15.3" font-weight="700" fill="#000">H</text>
<g stroke="#151515" stroke-width="1.0" fill="none">
<path d="M368,591.34 V693.8"/>
<path d="M367.5,693.3 H373.2"/>
<path d="M377.8,693.3 H492.2"/>
</g>
<g stroke="#151515" stroke-width="0.8" fill="none">
<path d="M365.6,693.3 H368"/>
<path d="M365.6,655.65 H368"/>
<path d="M365.6,618 H368"/>
<path d="M368,693.3 v3"/>
<path d="M373.2,692.2 v2.2 M377.8,692.2 v2.2"/>
<path d="M394.2,693.3 v1.6"/>
<path d="M417.65,693.3 v1.6"/>
<path d="M441.1,693.3 v1.6"/>
<path d="M464.55,693.3 v1.6"/>
<path d="M488,693.3 v1.6"/>
</g>
<g fill="#222" stroke="#222" stroke-width="0.17">
<text transform="translate(365.6,695.8) scale(0.93,1)" font-size="7.47" text-anchor="end">0</text>
<text transform="translate(365.6,658.15) scale(0.93,1)" font-size="7.47" text-anchor="end">50</text>
<text transform="translate(365.6,620.5) scale(0.93,1)" font-size="7.47" text-anchor="end">100</text>
<text transform="translate(368,701.9) scale(0.93,1)" font-size="7.47" text-anchor="middle">0</text>
<text transform="translate(394.2,701.5) scale(0.93,1)" font-size="7.47" text-anchor="middle">1</text>
<text transform="translate(417.65,701.5) scale(0.93,1)" font-size="7.47" text-anchor="middle">10</text>
<text transform="translate(441.1,701.5) scale(0.93,1)" font-size="7.47" text-anchor="middle">100</text>
<text transform="translate(465.75,701.5) scale(0.93,1)" font-size="7.47" text-anchor="middle">1,000</text>
<text transform="translate(491,701.5) scale(0.93,1)" font-size="7.47" text-anchor="middle">10,000</text>
</g>
<text transform="translate(380.9,709.3) scale(0.9,1)" font-size="7.99" fill="#222" stroke="#222" stroke-width="0.2">Concentration of foretinib (nmol/L)</text>
<text transform="translate(351.8,697.7) rotate(-90) scale(0.9,1)" font-size="7.89" fill="#222" stroke="#222" stroke-width="0.2">Relative cell number (% of control)</text>
<path d="M368,623.27 L373.2,623.27 M377.8,623.27 L378.49,623.27 L379.19,623.27 L379.88,623.27 L380.57,623.27 L381.27,623.27 L381.96,623.27 L382.65,623.27 L383.35,623.27 L384.04,623.27 L384.73,623.28 L385.42,623.28 L386.12,623.28 L386.81,623.28 L387.5,623.28 L388.2,623.28 L388.89,623.28 L389.58,623.29 L390.28,623.29 L390.97,623.29 L391.66,623.3 L392.36,623.3 L393.05,623.31 L393.74,623.31 L394.44,623.32 L395.13,623.33 L395.82,623.34 L396.51,623.36 L397.21,623.38 L397.9,623.4 L398.59,623.42 L399.29,623.45 L399.98,623.48 L400.67,623.52 L401.37,623.57 L402.06,623.63 L402.75,623.7 L403.45,623.78 L404.14,623.88 L404.83,624 L405.52,624.14 L406.22,624.3 L406.91,624.5 L407.6,624.73 L408.3,625 L408.99,625.33 L409.68,625.71 L410.38,626.17 L411.07,626.7 L411.76,627.33 L412.46,628.06 L413.15,628.91 L413.84,629.9 L414.54,631.04 L415.23,632.35 L415.92,633.84 L416.62,635.53 L417.31,637.42 L418,639.52 L418.69,641.84 L419.39,644.35 L420.08,647.04 L420.77,649.9 L421.47,652.87 L422.16,655.93 L422.85,659.02 L423.55,662.11 L424.24,665.13 L424.93,668.05 L425.63,670.83 L426.32,673.44 L427.01,675.86 L427.7,678.07 L428.4,680.08 L429.09,681.87 L429.78,683.47 L430.48,684.87 L431.17,686.1 L431.86,687.16 L432.56,688.08 L433.25,688.88 L433.94,689.55 L434.64,690.13 L435.33,690.63 L436.02,691.05 L436.72,691.4 L437.41,691.7 L438.1,691.96 L438.8,692.17 L439.49,692.35 L440.18,692.5 L440.87,692.63 L441.57,692.74 L442.26,692.83 L442.95,692.91 L443.65,692.97 L444.34,693.02 L445.03,693.07 L445.73,693.11 L446.42,693.14 L447.11,693.16 L447.81,693.19 L448.5,693.2 L449.19,693.22 L449.88,693.23 L450.58,693.24 L451.27,693.25 L451.96,693.26 L452.66,693.27 L453.35,693.27 L454.04,693.28 L454.74,693.28 L455.43,693.28 L456.12,693.29 L456.82,693.29 L457.51,693.29 L458.2,693.29 L458.9,693.29 L459.59,693.29 L460.28,693.3 L460.98,693.3 L461.67,693.3 L462.36,693.3 L463.05,693.3 L463.75,693.3 L464.44,693.3 L465.13,693.3 L465.83,693.3 L466.52,693.3 L467.21,693.3 L467.91,693.3 L468.6,693.3 L469.29,693.3 L469.99,693.3 L470.68,693.3 L471.37,693.3 L472.06,693.3 L472.76,693.3 L473.45,693.3 L474.14,693.3 L474.84,693.3 L475.53,693.3 L476.22,693.3 L476.92,693.3 L477.61,693.3 L478.3,693.3 L479,693.3 L479.69,693.3 L480.38,693.3 L481.08,693.3 L481.77,693.3 L482.46,693.3 L483.15,693.3 L483.85,693.3 L484.54,693.3 L485.23,693.3 L485.93,693.3 L486.62,693.3 L487.31,693.3 L488.01,693.3 L488.7,693.3" fill="none" stroke="#F19A2E" stroke-width="1.05" stroke-linejoin="round"/>
<path d="M368,611.98 L373.2,611.98 M377.8,611.98 L378.49,611.98 L379.19,611.98 L379.88,611.98 L380.57,611.98 L381.27,611.98 L381.96,611.98 L382.65,611.98 L383.35,611.98 L384.04,611.98 L384.73,611.98 L385.42,611.98 L386.12,611.98 L386.81,611.98 L387.5,611.98 L388.2,611.98 L388.89,611.98 L389.58,611.98 L390.28,611.98 L390.97,611.98 L391.66,611.98 L392.36,611.98 L393.05,611.98 L393.74,611.98 L394.44,611.98 L395.13,611.98 L395.82,611.98 L396.51,611.98 L397.21,611.98 L397.9,611.98 L398.59,611.98 L399.29,611.98 L399.98,611.98 L400.67,611.98 L401.37,611.98 L402.06,611.98 L402.75,611.98 L403.45,611.98 L404.14,611.98 L404.83,611.98 L405.52,611.98 L406.22,611.98 L406.91,611.98 L407.6,611.98 L408.3,611.98 L408.99,611.98 L409.68,611.98 L410.38,611.98 L411.07,611.98 L411.76,611.98 L412.46,611.98 L413.15,611.98 L413.84,611.98 L414.54,611.98 L415.23,611.98 L415.92,611.98 L416.62,611.98 L417.31,611.98 L418,611.98 L418.69,611.98 L419.39,611.98 L420.08,611.98 L420.77,611.98 L421.47,611.98 L422.16,611.98 L422.85,611.98 L423.55,611.98 L424.24,611.98 L424.93,611.98 L425.63,611.98 L426.32,611.98 L427.01,611.98 L427.7,611.98 L428.4,611.98 L429.09,611.98 L429.78,611.98 L430.48,611.98 L431.17,611.98 L431.86,611.98 L432.56,611.98 L433.25,611.98 L433.94,611.98 L434.64,611.98 L435.33,611.98 L436.02,611.98 L436.72,611.98 L437.41,611.98 L438.1,611.98 L438.8,611.98 L439.49,611.98 L440.18,611.98 L440.87,611.98 L441.57,611.98 L442.26,611.98 L442.95,611.99 L443.65,612 L444.34,612.01 L445.03,612.03 L445.73,612.07 L446.42,612.13 L447.11,612.23 L447.81,612.4 L448.5,612.67 L449.19,613.12 L449.88,613.85 L450.58,615.04 L451.27,616.92 L451.96,619.85 L452.66,624.22 L453.35,630.42 L454.04,638.55 L454.74,648.2 L455.43,658.38 L456.12,667.88 L456.82,675.77 L457.51,681.72 L458.2,685.88 L458.9,688.65 L459.59,690.42 L460.28,691.54 L460.98,692.23 L461.67,692.65 L462.36,692.9 L463.05,693.06 L463.75,693.16 L464.44,693.21 L465.13,693.25 L465.83,693.27 L466.52,693.28 L467.21,693.29 L467.91,693.29 L468.6,693.3 L469.29,693.3 L469.99,693.3 L470.68,693.3 L471.37,693.3 L472.06,693.3 L472.76,693.3 L473.45,693.3 L474.14,693.3 L474.84,693.3 L475.53,693.3 L476.22,693.3 L476.92,693.3 L477.61,693.3 L478.3,693.3 L479,693.3 L479.69,693.3 L480.38,693.3 L481.08,693.3 L481.77,693.3 L482.46,693.3 L483.15,693.3 L483.85,693.3 L484.54,693.3 L485.23,693.3 L485.93,693.3 L486.62,693.3 L487.31,693.3 L488.01,693.3 L488.7,693.3" fill="none" stroke="#1C8428" stroke-width="1.05" stroke-linejoin="round"/>
<path d="M368,621.01 L373.2,623.88 M377.8,626.75 L378.49,627.28 L379.19,627.85 L379.88,628.46 L380.57,629.12 L381.27,629.83 L381.96,630.6 L382.65,631.42 L383.35,632.29 L384.04,633.23 L384.73,634.23 L385.42,635.29 L386.12,636.41 L386.81,637.6 L387.5,638.85 L388.2,640.16 L388.89,641.53 L389.58,642.96 L390.28,644.44 L390.97,645.97 L391.66,647.55 L392.36,649.17 L393.05,650.83 L393.74,652.51 L394.44,654.21 L395.13,655.93 L395.82,657.65 L396.51,659.37 L397.21,661.08 L397.9,662.77 L398.59,664.43 L399.29,666.07 L399.98,667.67 L400.67,669.22 L401.37,670.73 L402.06,672.18 L402.75,673.57 L403.45,674.91 L404.14,676.19 L404.83,677.4 L405.52,678.55 L406.22,679.64 L406.91,680.66 L407.6,681.62 L408.3,682.53 L408.99,683.37 L409.68,684.16 L410.38,684.89 L411.07,685.58 L411.76,686.21 L412.46,686.8 L413.15,687.34 L413.84,687.84 L414.54,688.3 L415.23,688.73 L415.92,689.12 L416.62,689.48 L417.31,689.81 L418,690.11 L418.69,690.39 L419.39,690.65 L420.08,690.88 L420.77,691.09 L421.47,691.29 L422.16,691.47 L422.85,691.63 L423.55,691.78 L424.24,691.91 L424.93,692.04 L425.63,692.15 L426.32,692.25 L427.01,692.35 L427.7,692.43 L428.4,692.51 L429.09,692.58 L429.78,692.65 L430.48,692.7 L431.17,692.76 L431.86,692.81 L432.56,692.85 L433.25,692.89 L433.94,692.93 L434.64,692.96 L435.33,692.99 L436.02,693.02 L436.72,693.05 L437.41,693.07 L438.1,693.09 L438.8,693.11 L439.49,693.13 L440.18,693.14 L440.87,693.16 L441.57,693.17 L442.26,693.18 L442.95,693.19 L443.65,693.2 L444.34,693.21 L445.03,693.22 L445.73,693.23 L446.42,693.23 L447.11,693.24 L447.81,693.24 L448.5,693.25 L449.19,693.25 L449.88,693.26 L450.58,693.26 L451.27,693.27 L451.96,693.27 L452.66,693.27 L453.35,693.27 L454.04,693.28 L454.74,693.28 L455.43,693.28 L456.12,693.28 L456.82,693.28 L457.51,693.29 L458.2,693.29 L458.9,693.29 L459.59,693.29 L460.28,693.29 L460.98,693.29 L461.67,693.29 L462.36,693.29 L463.05,693.29 L463.75,693.29 L464.44,693.29 L465.13,693.29 L465.83,693.3 L466.52,693.3 L467.21,693.3 L467.91,693.3 L468.6,693.3 L469.29,693.3 L469.99,693.3 L470.68,693.3 L471.37,693.3 L472.06,693.3 L472.76,693.3 L473.45,693.3 L474.14,693.3 L474.84,693.3 L475.53,693.3 L476.22,693.3 L476.92,693.3 L477.61,693.3 L478.3,693.3 L479,693.3 L479.69,693.3 L480.38,693.3 L481.08,693.3 L481.77,693.3 L482.46,693.3 L483.15,693.3 L483.85,693.3 L484.54,693.3 L485.23,693.3 L485.93,693.3 L486.62,693.3 L487.31,693.3 L488.01,693.3 L488.7,693.3" fill="none" stroke="#561489" stroke-width="1.05" stroke-linejoin="round"/>
<g stroke="#F19A2E" stroke-width="0.7" fill="#F19A2E">
<path d="M368,621.76 V624.78 M366.6,621.76 h2.8 M366.6,624.78 h2.8" fill="none"/>
<circle cx="368" cy="623.27" r="1.5" stroke="none"/>
<path d="M381.94,631.55 V642.1 M380.54,631.55 h2.8 M380.54,642.1 h2.8" fill="none"/>
<circle cx="381.94" cy="636.82" r="1.5" stroke="none"/>
<path d="M394.2,618.75 V627.79 M392.8,618.75 h2.8 M392.8,627.79 h2.8" fill="none"/>
<circle cx="394.2" cy="623.27" r="1.5" stroke="none"/>
<path d="M405.39,618 V628.54 M403.99,618 h2.8 M403.99,628.54 h2.8" fill="none"/>
<circle cx="405.39" cy="623.27" r="1.5" stroke="none"/>
<path d="M417.65,633.81 V642.85 M416.25,633.81 h2.8 M416.25,642.85 h2.8" fill="none"/>
<circle cx="417.65" cy="638.33" r="1.5" stroke="none"/>
<path d="M428.84,678.99 V683.51 M427.44,678.99 h2.8 M427.44,683.51 h2.8" fill="none"/>
<circle cx="428.84" cy="681.25" r="1.5" stroke="none"/>
<path d="M441.1,690.29 V691.79 M439.7,690.29 h2.8 M439.7,691.79 h2.8" fill="none"/>
<circle cx="441.1" cy="691.04" r="1.5" stroke="none"/>
<circle cx="452.29" cy="693.26" r="1.5" stroke="none"/>
<circle cx="464.55" cy="693.3" r="1.5" stroke="none"/>
<circle cx="475.74" cy="693.3" r="1.5" stroke="none"/>
<circle cx="488" cy="693.3" r="1.5" stroke="none"/>
</g>
<g stroke="#1C8428" stroke-width="0.7" fill="#1C8428">
<path d="M368,609.72 V614.23 M366.6,609.72 h2.8 M366.6,614.23 h2.8" fill="none"/>
<rect x="366.6" y="610.58" width="2.8" height="2.8" stroke="none"/>
<path d="M381.94,619.51 V625.53 M380.54,619.51 h2.8 M380.54,625.53 h2.8" fill="none"/>
<rect x="380.54" y="621.12" width="2.8" height="2.8" stroke="none"/>
<path d="M394.2,610.47 V618 M392.8,610.47 h2.8 M392.8,618 h2.8" fill="none"/>
<rect x="392.8" y="612.83" width="2.8" height="2.8" stroke="none"/>
<path d="M405.39,610.47 V616.49 M403.99,610.47 h2.8 M403.99,616.49 h2.8" fill="none"/>
<rect x="403.99" y="612.08" width="2.8" height="2.8" stroke="none"/>
<path d="M417.65,597.67 V612.73 M416.25,597.67 h2.8 M416.25,612.73 h2.8" fill="none"/>
<rect x="416.25" y="603.8" width="2.8" height="2.8" stroke="none"/>
<path d="M428.84,598.42 V613.48 M427.44,598.42 h2.8 M427.44,613.48 h2.8" fill="none"/>
<rect x="427.44" y="604.55" width="2.8" height="2.8" stroke="none"/>
<path d="M441.1,595.41 V613.48 M439.7,595.41 h2.8 M439.7,613.48 h2.8" fill="none"/>
<rect x="439.7" y="603.05" width="2.8" height="2.8" stroke="none"/>
<path d="M452.29,615.74 V627.79 M450.89,615.74 h2.8 M450.89,627.79 h2.8" fill="none"/>
<rect x="450.89" y="620.37" width="2.8" height="2.8" stroke="none"/>
<rect x="463.15" y="691.82" width="2.8" height="2.8" stroke="none"/>
<rect x="474.34" y="691.9" width="2.8" height="2.8" stroke="none"/>
<rect x="486.6" y="691.9" width="2.8" height="2.8" stroke="none"/>
</g>
<g stroke="#561489" stroke-width="0.7" fill="#561489">
<path d="M368,615.74 V620.26 M366.6,615.74 h2.8 M366.6,620.26 h2.8" fill="none"/>
<path d="M368,616.1 l1.8,1.9 l-1.8,1.9 l-1.8,-1.9 z" stroke="none"/>
<path d="M381.94,632.31 V636.82 M380.54,632.31 h2.8 M380.54,636.82 h2.8" fill="none"/>
<path d="M381.94,632.67 l1.8,1.9 l-1.8,1.9 l-1.8,-1.9 z" stroke="none"/>
<path d="M394.2,645.11 V654.14 M392.8,645.11 h2.8 M392.8,654.14 h2.8" fill="none"/>
<path d="M394.2,647.73 l1.8,1.9 l-1.8,1.9 l-1.8,-1.9 z" stroke="none"/>
<path d="M405.39,678.99 V680.5 M403.99,678.99 h2.8 M403.99,680.5 h2.8" fill="none"/>
<path d="M405.39,677.85 l1.8,1.9 l-1.8,1.9 l-1.8,-1.9 z" stroke="none"/>
<path d="M417.65,688.78 V690.29 M416.25,688.78 h2.8 M416.25,690.29 h2.8" fill="none"/>
<path d="M417.65,687.63 l1.8,1.9 l-1.8,1.9 l-1.8,-1.9 z" stroke="none"/>
<path d="M428.84,690.29 V691.79 M427.44,690.29 h2.8 M427.44,691.79 h2.8" fill="none"/>
<path d="M428.84,689.14 l1.8,1.9 l-1.8,1.9 l-1.8,-1.9 z" stroke="none"/>
<path d="M441.1,690.29 V691.79 M439.7,690.29 h2.8 M439.7,691.79 h2.8" fill="none"/>
<path d="M441.1,689.14 l1.8,1.9 l-1.8,1.9 l-1.8,-1.9 z" stroke="none"/>
<path d="M452.29,691.37 l1.8,1.9 l-1.8,1.9 l-1.8,-1.9 z" stroke="none"/>
<path d="M464.55,691.39 l1.8,1.9 l-1.8,1.9 l-1.8,-1.9 z" stroke="none"/>
<path d="M475.74,691.4 l1.8,1.9 l-1.8,1.9 l-1.8,-1.9 z" stroke="none"/>
<path d="M488,691.4 l1.8,1.9 l-1.8,1.9 l-1.8,-1.9 z" stroke="none"/>
</g>
<path d="M448.2,592.3 h6.4" stroke="#F19A2E" stroke-width="1"/>
<circle cx="451.4" cy="592.3" r="1.3" fill="#F19A2E"/>
<text transform="translate(458.4,594.9) scale(0.9,1)" font-size="7.78" fill="#F3A95A" stroke="#F3A95A" stroke-width="0.05">TPM3-NTRK1 (wt)</text>
<path d="M448.2,599.9 h6.4" stroke="#1C8428" stroke-width="1"/>
<rect x="450.2" y="598.7" width="2.4" height="2.4" fill="#1C8428"/>
<text transform="translate(458.4,602.5) scale(0.9,1)" font-size="7.78" fill="#1C8428" stroke="#1C8428" stroke-width="0.12">G595R</text>
<path d="M448.2,607.5 h6.4" stroke="#561489" stroke-width="1"/>
<path d="M451.4,605.9 l1.5,1.6 l-1.5,1.6 l-1.5,-1.6 z" fill="#561489"/>
<text transform="translate(458.4,610.1) scale(0.9,1)" font-size="7.78" fill="#561489" stroke="#561489" stroke-width="0.12">G667C</text>
<text x="0.1" y="343.8" font-size="15.3" font-weight="700" fill="#000">E</text>
<rect x="59.3" y="446" width="460.26" height="94.8" fill="#63B973"/>
<rect x="366.14" y="446" width="12.79" height="23.8" fill="#97D7A6"/>
<rect x="417.28" y="446" width="12.79" height="23.8" fill="#6DBF7D"/>
<rect x="455.63" y="446" width="12.79" height="23.8" fill="#E6F8FA"/>
<rect x="481.21" y="446" width="12.79" height="23.8" fill="#C4E8CC"/>
<rect x="493.99" y="446" width="12.79" height="23.8" fill="#A4DCB4"/>
<rect x="136.01" y="469.8" width="12.79" height="23.7" fill="#84CE98"/>
<rect x="148.8" y="469.8" width="12.79" height="23.7" fill="#FF6769"/>
<rect x="161.58" y="469.8" width="12.79" height="23.7" fill="#FFFFFF"/>
<rect x="302.21" y="469.8" width="12.79" height="23.7" fill="#FF9798"/>
<rect x="353.36" y="469.8" width="12.79" height="23.7" fill="#DCE9DC"/>
<rect x="417.28" y="469.8" width="12.79" height="23.7" fill="#FFFFFF"/>
<rect x="455.63" y="469.8" width="12.79" height="23.7" fill="#FF5B64"/>
<rect x="481.21" y="469.8" width="12.79" height="23.7" fill="#FFA8B3"/>
<rect x="493.99" y="469.8" width="12.79" height="23.7" fill="#FFBCC3"/>
<rect x="136.01" y="493.5" width="12.79" height="23.8" fill="#FF5E6E"/>
<rect x="148.8" y="493.5" width="12.79" height="23.8" fill="#FF6D6E"/>
<rect x="302.21" y="493.5" width="12.79" height="23.8" fill="#FF6266"/>
<rect x="353.36" y="493.5" width="12.79" height="23.8" fill="#FF6C6E"/>
<rect x="417.28" y="493.5" width="12.79" height="23.8" fill="#FF9BA0"/>
<rect x="455.63" y="493.5" width="12.79" height="23.8" fill="#FF5B64"/>
<rect x="481.21" y="493.5" width="12.79" height="23.8" fill="#DCF8E4"/>
<rect x="493.99" y="493.5" width="12.79" height="23.8" fill="#B4E4C4"/>
<rect x="97.66" y="517.3" width="12.79" height="23.5" fill="#79C98B"/>
<rect x="161.58" y="517.3" width="12.79" height="23.5" fill="#86CF99"/>
<rect x="174.37" y="517.3" width="12.79" height="23.5" fill="#80CC95"/>
<rect x="187.15" y="517.3" width="12.79" height="23.5" fill="#64C571"/>
<rect x="276.64" y="517.3" width="12.79" height="23.5" fill="#5FC86E"/>
<rect x="404.5" y="517.3" width="12.79" height="23.5" fill="#A8DCB6"/>
<rect x="417.28" y="517.3" width="12.79" height="23.5" fill="#FF6870"/>
<rect x="455.63" y="517.3" width="12.79" height="23.5" fill="#FFE8E8"/>
<rect x="481.21" y="517.3" width="12.79" height="23.5" fill="#FFE4E6"/>
<rect x="493.99" y="517.3" width="12.79" height="23.5" fill="#F4FCF0"/>
<path d="M59.3,541 H519.56" stroke="#3d7a48" stroke-width="1"/>
<path d="M97.66,541 h12.79" stroke="#4b7c56" stroke-width="1"/>
<path d="M161.58,541 h12.79" stroke="#53805e" stroke-width="1"/>
<path d="M174.37,541 h12.79" stroke="#4f7e5c" stroke-width="1"/>
<path d="M187.15,541 h12.79" stroke="#3e7a46" stroke-width="1"/>
<path d="M276.64,541 h12.79" stroke="#3a7c44" stroke-width="1"/>
<path d="M404.5,541 h12.79" stroke="#688870" stroke-width="1"/>
<path d="M417.28,541 h12.79" stroke="#9e4045" stroke-width="1"/>
<path d="M455.63,541 h12.79" stroke="#9e8f8f" stroke-width="1"/>
<path d="M481.21,541 h12.79" stroke="#9e8d8e" stroke-width="1"/>
<path d="M493.99,541 h12.79" stroke="#979c94" stroke-width="1"/>
<g stroke="#222" stroke-width="0.8" fill="none">
<path d="M2.4,348.2 H519.56"/>
<path d="M2.4,348.2 V540.8"/>
<path d="M59.3,348.2 V540.8"/>
<path d="M2.4,386.8 H59.3"/>
<path d="M2.4,446 H59.3"/>
<path d="M2.4,469.8 H59.3"/>
<path d="M2.4,493.5 H59.3"/>
<path d="M2.4,517.3 H59.3"/>
<path d="M2.4,540.8 H59.3"/>
<path d="M59.3,446 H519.56"/>
<path d="M2.4,386.8 L59.3,446"/>
</g>
<g stroke="#333" stroke-width="0.75" fill="none" stroke-dasharray="5 1.8">
<path d="M72.08,348.2 V446"/>
<path d="M84.87,348.2 V446"/>
<path d="M97.66,348.2 V446"/>
<path d="M110.44,348.2 V446"/>
<path d="M123.22,348.2 V446"/>
<path d="M136.01,348.2 V446"/>
<path d="M148.8,348.2 V446"/>
<path d="M161.58,348.2 V446"/>
<path d="M174.37,348.2 V446"/>
<path d="M187.15,348.2 V446"/>
<path d="M199.94,348.2 V446"/>
<path d="M212.72,348.2 V446"/>
<path d="M225.5,348.2 V446"/>
<path d="M238.29,348.2 V446"/>
<path d="M251.07,348.2 V446"/>
<path d="M263.86,348.2 V446"/>
<path d="M276.64,348.2 V446"/>
<path d="M289.43,348.2 V446"/>
<path d="M302.21,348.2 V446"/>
<path d="M315,348.2 V446"/>
<path d="M327.79,348.2 V446"/>
<path d="M340.57,348.2 V446"/>
<path d="M353.36,348.2 V446"/>
<path d="M366.14,348.2 V446"/>
<path d="M378.93,348.2 V446"/>
<path d="M391.71,348.2 V446"/>
<path d="M404.5,348.2 V446"/>
<path d="M417.28,348.2 V446"/>
<path d="M430.06,348.2 V446"/>
<path d="M442.85,348.2 V446"/>
<path d="M455.63,348.2 V446"/>
<path d="M468.42,348.2 V446"/>
<path d="M481.21,348.2 V446"/>
<path d="M493.99,348.2 V446"/>
<path d="M506.78,348.2 V446"/>
<path d="M519.56,348.2 V446"/>
<path d="M59.3,386.8 H519.56"/>
</g>
<path d="M59.3,436.4 H519.56" stroke="#e07070" stroke-width="0.5" stroke-dasharray="2.5 2" opacity="0.55"/>
<text x="30.9" y="368.9" font-size="6.8" text-anchor="middle" fill="#222" stroke="#222" stroke-width="0.12">Pubchem ID</text>
<text x="15.6" y="397.7" font-size="9.5" fill="#222" stroke="#222" stroke-width="0.12">Inhibitors</text>
<text x="12.5" y="441.9" font-size="9.8" fill="#222" stroke="#222" stroke-width="0.12">cells</text>
<g font-size="6.3" fill="#222" stroke="#222" stroke-width="0.12">
<text transform="translate(68.2,385.0) rotate(-90)">123631</text>
<text transform="translate(80.98,385.0) rotate(-90)">176870</text>
<text transform="translate(93.77,385.0) rotate(-90)">10184653</text>
<text transform="translate(106.56,385.0) rotate(-90)">208908</text>
<text transform="translate(119.34,385.0) rotate(-90)">71496458</text>
<text transform="translate(132.12,385.0) rotate(-90)">10461815</text>
<text transform="translate(144.91,385.0) rotate(-90)">25102847</text>
<text transform="translate(157.7,385.0) rotate(-90)">42642645</text>
<text transform="translate(170.48,385.0) rotate(-90)">11626560</text>
<text transform="translate(183.27,385.0) rotate(-90)">57379345</text>
<text transform="translate(196.05,385.0) rotate(-90)">49806720</text>
<text transform="translate(208.84,385.0) rotate(-90)">16038120</text>
<text transform="translate(221.62,385.0) rotate(-90)">68165256</text>
<text transform="translate(234.41,385.0) rotate(-90)">71731823</text>
<text transform="translate(247.19,385.0) rotate(-90)">25134326</text>
<text transform="translate(259.97,385.0) rotate(-90)">56599293</text>
<text transform="translate(272.76,385.0) rotate(-90)">11476171</text>
<text transform="translate(285.54,385.0) rotate(-90)">66555680</text>
<text transform="translate(298.33,385.0) rotate(-90)">53235510</text>
<text transform="translate(311.11,385.0) rotate(-90)">24826799</text>
<text transform="translate(323.9,385.0) rotate(-90)">5291</text>
<text transform="translate(336.69,385.0) rotate(-90)">216239</text>
<text transform="translate(349.47,385.0) rotate(-90)">5329102</text>
<text transform="translate(362.25,385.0) rotate(-90)">9809715</text>
<text transform="translate(375.04,385.0) rotate(-90)">3062316</text>
<text transform="translate(387.82,385.0) rotate(-90)">3081361</text>
<text transform="translate(400.61,385.0) rotate(-90)">9823820</text>
<text transform="translate(413.39,385.0) rotate(-90)">17755052</text>
<text transform="translate(426.18,385.0) rotate(-90)">11707110</text>
<text transform="translate(438.96,385.0) rotate(-90)">10127622</text>
<text transform="translate(451.75,385.0) rotate(-90)">42611257</text>
<text transform="translate(464.53,385.0) rotate(-90)">126565</text>
<text transform="translate(477.32,385.0) rotate(-90)">6505803</text>
<text transform="translate(490.11,385.0) rotate(-90)">5284616</text>
<text transform="translate(502.89,385.0) rotate(-90)">6442177</text>
<text transform="translate(515.68,385.0) rotate(-90)">24905147</text>
</g>
<g fill="#222" stroke="#222" stroke-width="0.12">
<text transform="translate(67.9,444.2) rotate(-90) scale(0.87,1)" font-size="9.52">Gefitinib</text>
<text transform="translate(80.68,444.2) rotate(-90) scale(0.87,1)" font-size="9.52">Erlotinib</text>
<text transform="translate(93.47,444.2) rotate(-90) scale(0.87,1)" font-size="9.52">BIBW2992</text>
<text transform="translate(106.25,444.2) rotate(-90) scale(0.87,1)" font-size="9.52">Lapatinib</text>
<text transform="translate(119.04,444.2) rotate(-90) scale(0.87,1)" font-size="9.52">Osimertinib</text>
<text transform="translate(131.82,444.2) rotate(-90) scale(0.87,1)" font-size="9.52">PHA665752</text>
<text transform="translate(144.61,444.2) rotate(-90) scale(0.87,1)" font-size="9.52">Cabozantinib</text>
<text transform="translate(157.4,444.2) rotate(-90) scale(0.87,1)" font-size="9.52">Foretinib</text>
<text transform="translate(170.18,444.2) rotate(-90) scale(0.87,1)" font-size="9.52">Crizotinib</text>
<text transform="translate(182.97,444.2) rotate(-90) scale(0.87,1)" font-size="9.52">Ceritinib</text>
<text transform="translate(195.75,444.2) rotate(-90) scale(0.87,1)" font-size="9.52">Alectinib</text>
<text transform="translate(208.53,444.2) rotate(-90) scale(0.87,1)" font-size="9.52">TAE684</text>
<text transform="translate(221.32,444.2) rotate(-90) scale(0.87,1)" font-size="9.52">Brigatinib</text>
<text transform="translate(234.1,444.2) rotate(-90) scale(0.87,1)" font-size="9.52">Lorlatinib</text>
<text transform="translate(246.89,444.2) rotate(-90) scale(0.87,1)" font-size="9.52">ASP3026</text>
<text transform="translate(259.68,444.2) rotate(-90) scale(0.87,1)" font-size="9.52">AZD3463</text>
<text transform="translate(272.46,444.2) rotate(-90) scale(0.87,1)" font-size="9.52">AEW541</text>
<text transform="translate(285.25,444.2) rotate(-90) scale(0.87,1)" font-size="9.52">CH5183284</text>
<text transform="translate(298.03,444.2) rotate(-90) scale(0.87,1)" font-size="9.52">BGJ398</text>
<text transform="translate(310.81,444.2) rotate(-90) scale(0.87,1)" font-size="9.52">Ponatinib</text>
<text transform="translate(323.6,444.2) rotate(-90) scale(0.87,1)" font-size="9.52">Imatinib</text>
<text transform="translate(336.39,444.2) rotate(-90) scale(0.87,1)" font-size="9.52">Sorafenib</text>
<text transform="translate(349.17,444.2) rotate(-90) scale(0.87,1)" font-size="9.52">Sunitinib</text>
<text transform="translate(361.96,444.2) rotate(-90) scale(0.87,1)" font-size="9.52">Nintedanib</text>
<text transform="translate(374.74,444.2) rotate(-90) scale(0.87,1)" font-size="9.52">Dasatinib</text>
<text transform="translate(387.53,444.2) rotate(-90) scale(0.87,1)" font-size="9.52">Vandetanib</text>
<text transform="translate(400.31,444.2) rotate(-90) scale(0.87,1)" font-size="9.52">Lenvatinib</text>
<text transform="translate(413.1,444.2) rotate(-90) scale(0.87,1)" font-size="9.52">GDC0941</text>
<text transform="translate(425.88,444.2) rotate(-90) scale(0.87,1)" font-size="9.52">Trametinib</text>
<text transform="translate(438.67,444.2) rotate(-90) scale(0.87,1)" font-size="9.52">AZD6244</text>
<text transform="translate(451.45,444.2) rotate(-90) scale(0.87,1)" font-size="9.52">Vemurafenib</text>
<text transform="translate(464.24,444.2) rotate(-90) scale(0.87,1)" font-size="9.52">CEP701</text>
<text transform="translate(477.02,444.2) rotate(-90) scale(0.87,1)" font-size="9.52">17-AAG</text>
<text transform="translate(489.81,444.2) rotate(-90) scale(0.87,1)" font-size="9.52">Rapamycin</text>
<text transform="translate(502.59,444.2) rotate(-90) scale(0.87,1)" font-size="9.52">Everolimus</text>
<text transform="translate(515.38,444.2) rotate(-90) scale(0.87,1)" font-size="9.52">PP242</text>
</g>
<g font-size="8.4" fill="#222" text-anchor="middle" stroke="#222" stroke-width="0.12">
<text x="30.8" y="456.4">Ba/F3</text><text x="31.5" y="466.9">(pt + IL3)</text>
<text x="30.8" y="479.1">TPM3-NTRK1</text><text x="30.8" y="489.7">(WT)</text>
<text x="30.9" y="508.4">G667C</text><text x="30.9" y="532.1">G595R</text>
</g>
</svg>
</body>
</html>
